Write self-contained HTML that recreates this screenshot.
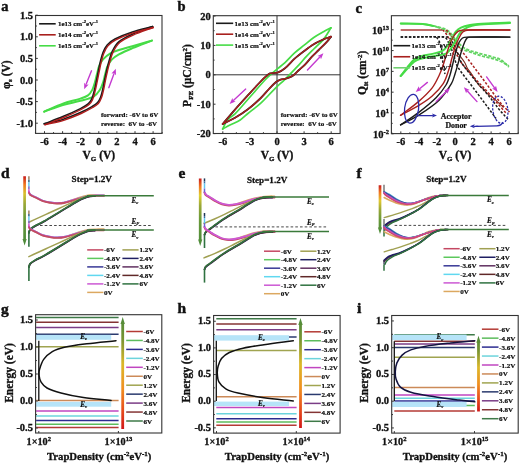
<!DOCTYPE html>
<html><head><meta charset="utf-8"><style>
html,body{margin:0;padding:0;background:#fff;}
svg{display:block;}
text{font-family:"Liberation Serif", "DejaVu Serif", serif;}
</style></head><body>
<svg width="520" height="466" viewBox="0 0 520 466">
<rect width="520" height="466" fill="#fff"/>
<text x="1.20" y="11.00" font-size="14.5" text-anchor="start" font-weight="bold" font-style="normal" fill="#111" stroke="#111" stroke-width="0.43">a</text>
<path d="M44.20,111.60 C50.43,108.93 56.53,105.89 62.90,103.60 C68.60,101.55 74.64,100.48 80.40,98.60 C83.01,97.75 85.88,96.99 88.00,95.40 C89.88,93.99 91.29,91.72 92.40,89.60 C93.62,87.26 94.24,84.57 95.00,82.00 C95.78,79.37 96.30,76.66 97.00,74.00 C97.70,71.33 98.16,68.54 99.20,66.00 C100.16,63.67 101.34,61.27 103.00,59.40 C105.07,57.07 107.70,55.00 110.40,53.40 C113.00,51.86 116.00,50.95 118.90,50.00 C123.34,48.55 127.90,47.48 132.40,46.20 C138.90,44.35 145.40,42.47 151.90,40.60" stroke="#46dc46" stroke-width="2.0" fill="none" stroke-linecap="round" stroke-linejoin="round"/>
<path d="M44.20,111.60 C50.43,109.40 56.57,106.89 62.90,105.00 C68.64,103.29 74.62,102.38 80.40,100.80 C84.85,99.58 89.69,98.78 93.60,96.60 C96.16,95.18 98.17,92.48 99.80,90.00 C101.37,87.62 102.28,84.74 103.20,82.00 C104.08,79.40 104.48,76.65 105.20,74.00 C105.88,71.49 106.33,68.84 107.40,66.50 C108.53,64.04 109.95,61.54 111.80,59.60 C113.79,57.51 116.35,55.81 118.90,54.40 C123.21,52.01 127.83,50.11 132.40,48.20 C138.83,45.51 145.40,43.13 151.90,40.60" stroke="#46dc46" stroke-width="2.0" fill="none" stroke-linecap="round" stroke-linejoin="round"/>
<path d="M44.20,123.80 C50.43,121.40 56.74,119.18 62.90,116.60 C68.81,114.12 74.70,111.51 80.40,108.60 C83.20,107.17 86.06,105.61 88.40,103.60 C89.86,102.35 90.99,100.56 91.80,98.80 C92.92,96.36 93.52,93.63 94.20,91.00 C95.05,87.70 95.70,84.34 96.40,81.00 C97.10,77.67 97.72,74.33 98.40,71.00 C99.05,67.83 99.62,64.64 100.40,61.50 C101.15,58.47 101.82,55.37 103.00,52.50 C104.08,49.87 105.34,47.10 107.20,45.00 C109.34,42.60 112.11,40.49 115.00,39.00 C120.51,36.16 126.47,33.95 132.40,32.00 C139.01,29.82 145.87,28.40 152.60,26.60" stroke="#1b1b1b" stroke-width="1.6" fill="none" stroke-linecap="round" stroke-linejoin="round"/>
<path d="M44.20,123.80 C50.43,122.33 56.80,121.29 62.90,119.40 C68.86,117.55 74.68,115.12 80.40,112.60 C84.38,110.85 88.25,108.78 92.00,106.60 C93.98,105.45 96.09,104.25 97.60,102.60 C98.96,101.12 99.85,99.10 100.60,97.20 C101.51,94.90 102.04,92.42 102.60,90.00 C103.37,86.69 103.90,83.33 104.60,80.00 C105.30,76.66 106.02,73.32 106.80,70.00 C107.55,66.82 108.28,63.63 109.20,60.50 C110.14,57.30 110.88,53.94 112.40,51.00 C114.14,47.64 116.14,44.00 119.00,41.60 C122.81,38.40 127.75,36.27 132.40,34.20 C138.95,31.27 145.87,29.13 152.60,26.60" stroke="#1b1b1b" stroke-width="1.6" fill="none" stroke-linecap="round" stroke-linejoin="round"/>
<path d="M44.95,124.70 C51.18,122.30 57.49,120.08 63.65,117.50 C69.56,115.02 75.45,112.41 81.15,109.50 C83.95,108.07 86.81,106.51 89.15,104.50 C90.61,103.25 91.74,101.46 92.55,99.70 C93.67,97.26 94.27,94.53 94.95,91.90 C95.80,88.60 96.45,85.24 97.15,81.90 C97.85,78.57 98.47,75.23 99.15,71.90 C99.80,68.73 100.37,65.54 101.15,62.40 C101.90,59.37 102.57,56.27 103.75,53.40 C104.83,50.77 106.09,48.00 107.95,45.90 C110.09,43.50 112.86,41.39 115.75,39.90 C121.26,37.06 127.22,34.85 133.15,32.90 C139.76,30.72 146.62,29.30 153.35,27.50" stroke="#b01c1c" stroke-width="1.4" fill="none" stroke-linecap="round" stroke-linejoin="round"/>
<path d="M44.95,124.70 C51.18,123.23 57.55,122.19 63.65,120.30 C69.61,118.45 75.43,116.02 81.15,113.50 C85.13,111.75 89.00,109.68 92.75,107.50 C94.73,106.35 96.84,105.15 98.35,103.50 C99.71,102.02 100.60,100.00 101.35,98.10 C102.26,95.80 102.79,93.32 103.35,90.90 C104.12,87.59 104.65,84.23 105.35,80.90 C106.05,77.56 106.77,74.22 107.55,70.90 C108.30,67.72 109.03,64.53 109.95,61.40 C110.89,58.20 111.63,54.84 113.15,51.90 C114.89,48.54 116.89,44.90 119.75,42.50 C123.56,39.30 128.50,37.17 133.15,35.10 C139.70,32.17 146.62,30.03 153.35,27.50" stroke="#b01c1c" stroke-width="1.4" fill="none" stroke-linecap="round" stroke-linejoin="round"/>
<line x1="91.50" y1="70.80" x2="86.23" y2="84.09" stroke="#c43ad0" stroke-width="1.4" stroke-linecap="round"/>
<path d="M84.20,89.20 L84.18,82.74 L85.97,84.74 L88.64,84.51 Z" fill="#c43ad0"/>
<line x1="108.80" y1="87.70" x2="113.89" y2="73.96" stroke="#c43ad0" stroke-width="1.4" stroke-linecap="round"/>
<path d="M115.80,68.80 L115.97,75.26 L114.13,73.30 L111.47,73.59 Z" fill="#c43ad0"/>
<rect x="35.60" y="15.50" width="126.40" height="117.90" fill="none" stroke="#333" stroke-width="1.1"/>
<line x1="44.50" y1="133.40" x2="44.50" y2="131.20" stroke="#333" stroke-width="1"/>
<line x1="62.60" y1="133.40" x2="62.60" y2="131.20" stroke="#333" stroke-width="1"/>
<line x1="80.70" y1="133.40" x2="80.70" y2="131.20" stroke="#333" stroke-width="1"/>
<line x1="98.80" y1="133.40" x2="98.80" y2="131.20" stroke="#333" stroke-width="1"/>
<line x1="116.90" y1="133.40" x2="116.90" y2="131.20" stroke="#333" stroke-width="1"/>
<line x1="135.00" y1="133.40" x2="135.00" y2="131.20" stroke="#333" stroke-width="1"/>
<line x1="153.10" y1="133.40" x2="153.10" y2="131.20" stroke="#333" stroke-width="1"/>
<line x1="35.45" y1="133.40" x2="35.45" y2="132.10" stroke="#333" stroke-width="1"/>
<line x1="53.55" y1="133.40" x2="53.55" y2="132.10" stroke="#333" stroke-width="1"/>
<line x1="71.65" y1="133.40" x2="71.65" y2="132.10" stroke="#333" stroke-width="1"/>
<line x1="89.75" y1="133.40" x2="89.75" y2="132.10" stroke="#333" stroke-width="1"/>
<line x1="107.85" y1="133.40" x2="107.85" y2="132.10" stroke="#333" stroke-width="1"/>
<line x1="125.95" y1="133.40" x2="125.95" y2="132.10" stroke="#333" stroke-width="1"/>
<line x1="144.05" y1="133.40" x2="144.05" y2="132.10" stroke="#333" stroke-width="1"/>
<line x1="162.15" y1="133.40" x2="162.15" y2="132.10" stroke="#333" stroke-width="1"/>
<text x="44.50" y="145.40" font-size="10.5" text-anchor="middle" font-weight="bold" font-style="normal" fill="#111" stroke="#111" stroke-width="0.32">-6</text>
<text x="62.60" y="145.40" font-size="10.5" text-anchor="middle" font-weight="bold" font-style="normal" fill="#111" stroke="#111" stroke-width="0.32">-4</text>
<text x="80.70" y="145.40" font-size="10.5" text-anchor="middle" font-weight="bold" font-style="normal" fill="#111" stroke="#111" stroke-width="0.32">-2</text>
<text x="98.80" y="145.40" font-size="10.5" text-anchor="middle" font-weight="bold" font-style="normal" fill="#111" stroke="#111" stroke-width="0.32">0</text>
<text x="116.90" y="145.40" font-size="10.5" text-anchor="middle" font-weight="bold" font-style="normal" fill="#111" stroke="#111" stroke-width="0.32">2</text>
<text x="135.00" y="145.40" font-size="10.5" text-anchor="middle" font-weight="bold" font-style="normal" fill="#111" stroke="#111" stroke-width="0.32">4</text>
<text x="153.10" y="145.40" font-size="10.5" text-anchor="middle" font-weight="bold" font-style="normal" fill="#111" stroke="#111" stroke-width="0.32">6</text>
<line x1="35.60" y1="15.20" x2="37.80" y2="15.20" stroke="#333" stroke-width="1"/>
<line x1="35.60" y1="36.80" x2="37.80" y2="36.80" stroke="#333" stroke-width="1"/>
<line x1="35.60" y1="58.40" x2="37.80" y2="58.40" stroke="#333" stroke-width="1"/>
<line x1="35.60" y1="80.00" x2="37.80" y2="80.00" stroke="#333" stroke-width="1"/>
<line x1="35.60" y1="101.60" x2="37.80" y2="101.60" stroke="#333" stroke-width="1"/>
<line x1="35.60" y1="123.20" x2="37.80" y2="123.20" stroke="#333" stroke-width="1"/>
<line x1="35.60" y1="26.00" x2="36.90" y2="26.00" stroke="#333" stroke-width="1"/>
<line x1="35.60" y1="47.60" x2="36.90" y2="47.60" stroke="#333" stroke-width="1"/>
<line x1="35.60" y1="69.20" x2="36.90" y2="69.20" stroke="#333" stroke-width="1"/>
<line x1="35.60" y1="90.80" x2="36.90" y2="90.80" stroke="#333" stroke-width="1"/>
<line x1="35.60" y1="112.40" x2="36.90" y2="112.40" stroke="#333" stroke-width="1"/>
<text x="33.00" y="18.80" font-size="10.5" text-anchor="end" font-weight="bold" font-style="normal" fill="#111" stroke="#111" stroke-width="0.32">1.5</text>
<text x="33.00" y="40.40" font-size="10.5" text-anchor="end" font-weight="bold" font-style="normal" fill="#111" stroke="#111" stroke-width="0.32">1.0</text>
<text x="33.00" y="62.00" font-size="10.5" text-anchor="end" font-weight="bold" font-style="normal" fill="#111" stroke="#111" stroke-width="0.32">0.5</text>
<text x="33.00" y="83.60" font-size="10.5" text-anchor="end" font-weight="bold" font-style="normal" fill="#111" stroke="#111" stroke-width="0.32">0.0</text>
<text x="33.00" y="105.20" font-size="10.5" text-anchor="end" font-weight="bold" font-style="normal" fill="#111" stroke="#111" stroke-width="0.32">-0.5</text>
<text x="33.00" y="126.80" font-size="10.5" text-anchor="end" font-weight="bold" font-style="normal" fill="#111" stroke="#111" stroke-width="0.32">-1.0</text>
<text x="98.80" y="159.20" font-size="11.5" text-anchor="middle" font-weight="bold" font-style="normal" fill="#111" stroke="#111" stroke-width="0.34">V<tspan font-size="7" dy="2">G</tspan><tspan dy="-2"> (V)</tspan></text>
<text x="10.20" y="74.70" font-size="11.5" text-anchor="middle" font-weight="bold" font-style="normal" fill="#111" stroke="#111" stroke-width="0.34" transform="rotate(-90 10.20 74.70)">φ<tspan font-size="7" dy="2">s</tspan><tspan dy="-2"> (V)</tspan></text>
<line x1="39.10" y1="23.80" x2="55.70" y2="23.80" stroke="#1b1b1b" stroke-width="1.6"/>
<text x="57.90" y="26.20" font-size="7" text-anchor="start" font-weight="bold" font-style="normal" fill="#111" stroke="#111" stroke-width="0.21">1e13 cm<tspan font-size="4.6" dy="-2.8">-2</tspan><tspan dy="2.8">eV</tspan><tspan font-size="4.6" dy="-2.8">-1</tspan></text>
<line x1="39.10" y1="34.80" x2="55.70" y2="34.80" stroke="#a8201e" stroke-width="1.6"/>
<text x="57.90" y="37.20" font-size="7" text-anchor="start" font-weight="bold" font-style="normal" fill="#111" stroke="#111" stroke-width="0.21">1e14 cm<tspan font-size="4.6" dy="-2.8">-2</tspan><tspan dy="2.8">eV</tspan><tspan font-size="4.6" dy="-2.8">-1</tspan></text>
<line x1="39.10" y1="45.80" x2="55.70" y2="45.80" stroke="#46dc46" stroke-width="1.6"/>
<text x="57.90" y="48.20" font-size="7" text-anchor="start" font-weight="bold" font-style="normal" fill="#111" stroke="#111" stroke-width="0.21">1e15 cm<tspan font-size="4.6" dy="-2.8">-2</tspan><tspan dy="2.8">eV</tspan><tspan font-size="4.6" dy="-2.8">-1</tspan></text>
<text x="101.00" y="116.50" font-size="7" text-anchor="start" font-weight="bold" font-style="normal" fill="#111" stroke="#111" stroke-width="0.21">forward: -6V to 6V</text>
<text x="101.00" y="125.60" font-size="7" text-anchor="start" font-weight="bold" font-style="normal" fill="#111" stroke="#111" stroke-width="0.21">reverse:&#160; 6V to -6V</text>
<text x="177.50" y="11.00" font-size="14.5" text-anchor="start" font-weight="bold" font-style="normal" fill="#111" stroke="#111" stroke-width="0.43">b</text>
<line x1="277.00" y1="15.70" x2="277.00" y2="133.50" stroke="#333" stroke-width="1"/>
<line x1="213.30" y1="74.80" x2="340.10" y2="74.80" stroke="#333" stroke-width="1"/>
<path d="M331.00,27.80 C328.50,29.10 325.95,30.32 323.50,31.70 C320.22,33.55 316.88,35.35 313.80,37.50 C310.45,39.85 307.40,42.63 304.20,45.20 C301.00,47.77 297.63,50.15 294.60,52.90 C291.23,55.95 288.34,59.52 285.00,62.60 C282.67,64.75 280.03,66.56 277.60,68.60 C275.30,70.53 273.02,72.49 270.80,74.50 C268.82,76.29 266.81,78.05 265.00,80.00 C259.87,85.55 255.01,91.34 250.00,97.00 C245.01,102.64 240.27,108.56 235.00,113.90 C232.77,116.16 229.46,117.39 227.50,119.80 C225.36,122.42 224.30,125.93 222.70,129.00" stroke="#46dc46" stroke-width="1.7" fill="none" stroke-linecap="round" stroke-linejoin="round"/>
<path d="M222.70,129.00 C225.13,127.67 227.53,126.27 230.00,125.00 C233.37,123.27 237.04,122.03 240.20,120.00 C243.00,118.20 245.30,115.62 247.90,113.50 C252.16,110.02 256.76,106.92 260.80,103.20 C265.79,98.62 270.17,93.37 275.00,88.60 C278.24,85.40 281.77,82.50 285.00,79.30 C289.90,74.44 294.68,69.44 299.40,64.40 C301.74,61.90 303.86,59.20 306.20,56.70 C308.66,54.07 311.25,51.55 313.80,49.00 C317.02,45.78 320.65,42.91 323.50,39.40 C326.38,35.85 328.50,31.67 331.00,27.80" stroke="#46dc46" stroke-width="1.7" fill="none" stroke-linecap="round" stroke-linejoin="round"/>
<path d="M331.00,36.60 C328.50,37.53 325.94,38.32 323.50,39.40 C320.20,40.86 316.88,42.35 313.80,44.20 C310.45,46.21 307.33,48.64 304.20,51.00 C300.93,53.47 297.65,55.97 294.60,58.70 C291.25,61.70 288.46,65.37 285.00,68.20 C282.79,70.00 280.25,71.69 277.60,72.60 C275.22,73.42 272.29,72.69 269.90,73.40 C268.59,73.79 267.57,74.99 266.50,75.90 C264.80,77.35 263.15,78.88 261.60,80.50 C256.98,85.32 252.50,90.27 248.00,95.20 C243.64,99.97 239.27,104.74 235.00,109.60 C230.83,114.34 226.80,119.20 222.70,124.00" stroke="#1b1b1b" stroke-width="1.8" fill="none" stroke-linecap="round" stroke-linejoin="round"/>
<path d="M222.70,124.00 C226.80,121.93 231.05,120.12 235.00,117.80 C239.45,115.19 243.81,112.34 247.90,109.20 C252.41,105.74 256.69,101.93 260.80,98.00 C263.73,95.20 266.21,91.94 269.00,89.00 C271.27,86.61 273.49,84.10 276.00,82.00 C277.16,81.03 278.58,80.30 280.00,79.80 C281.58,79.24 283.35,79.22 285.00,78.80 C286.52,78.42 288.06,78.01 289.50,77.40 C290.89,76.81 292.31,76.13 293.50,75.20 C295.48,73.66 297.15,71.71 299.00,70.00 C301.05,68.11 303.26,66.40 305.20,64.40 C307.56,61.96 309.57,59.18 311.90,56.70 C314.07,54.38 316.45,52.25 318.70,50.00 C321.58,47.12 324.55,44.30 327.30,41.30 C328.65,39.83 329.77,38.17 331.00,36.60" stroke="#1b1b1b" stroke-width="1.8" fill="none" stroke-linecap="round" stroke-linejoin="round"/>
<path d="M331.00,36.60 C328.50,37.53 325.94,38.32 323.50,39.40 C320.20,40.86 316.88,42.35 313.80,44.20 C310.45,46.21 307.33,48.64 304.20,51.00 C300.93,53.47 297.65,55.97 294.60,58.70 C291.25,61.70 288.46,65.37 285.00,68.20 C282.79,70.00 280.25,71.69 277.60,72.60 C275.22,73.42 272.29,72.69 269.90,73.40 C268.59,73.79 267.57,74.99 266.50,75.90 C264.80,77.35 263.15,78.88 261.60,80.50 C256.98,85.32 252.50,90.27 248.00,95.20 C243.64,99.97 239.27,104.74 235.00,109.60 C230.83,114.34 226.80,119.20 222.70,124.00" stroke="#a8201e" stroke-width="1.4" fill="none" stroke-linecap="round" stroke-linejoin="round"/>
<path d="M222.70,124.00 C226.80,121.93 231.05,120.12 235.00,117.80 C239.45,115.19 243.81,112.34 247.90,109.20 C252.41,105.74 256.69,101.93 260.80,98.00 C263.73,95.20 266.21,91.94 269.00,89.00 C271.27,86.61 273.49,84.10 276.00,82.00 C277.16,81.03 278.58,80.30 280.00,79.80 C281.58,79.24 283.35,79.22 285.00,78.80 C286.52,78.42 288.06,78.01 289.50,77.40 C290.89,76.81 292.31,76.13 293.50,75.20 C295.48,73.66 297.15,71.71 299.00,70.00 C301.05,68.11 303.26,66.40 305.20,64.40 C307.56,61.96 309.57,59.18 311.90,56.70 C314.07,54.38 316.45,52.25 318.70,50.00 C321.58,47.12 324.55,44.30 327.30,41.30 C328.65,39.83 329.77,38.17 331.00,36.60" stroke="#a8201e" stroke-width="1.4" fill="none" stroke-linecap="round" stroke-linejoin="round"/>
<line x1="307.50" y1="70.00" x2="319.61" y2="57.28" stroke="#c43ad0" stroke-width="1.4" stroke-linecap="round"/>
<path d="M323.40,53.30 L321.00,59.30 L320.09,56.78 L317.52,55.99 Z" fill="#c43ad0"/>
<line x1="245.70" y1="89.10" x2="233.65" y2="100.18" stroke="#c43ad0" stroke-width="1.4" stroke-linecap="round"/>
<path d="M229.60,103.90 L232.39,98.07 L233.13,100.65 L235.64,101.61 Z" fill="#c43ad0"/>
<rect x="213.30" y="15.70" width="126.80" height="117.80" fill="none" stroke="#333" stroke-width="1.1"/>
<line x1="222.82" y1="133.50" x2="222.82" y2="131.30" stroke="#333" stroke-width="1"/>
<line x1="249.91" y1="133.50" x2="249.91" y2="131.30" stroke="#333" stroke-width="1"/>
<line x1="277.00" y1="133.50" x2="277.00" y2="131.30" stroke="#333" stroke-width="1"/>
<line x1="304.09" y1="133.50" x2="304.09" y2="131.30" stroke="#333" stroke-width="1"/>
<line x1="331.18" y1="133.50" x2="331.18" y2="131.30" stroke="#333" stroke-width="1"/>
<line x1="236.37" y1="133.50" x2="236.37" y2="132.20" stroke="#333" stroke-width="1"/>
<line x1="263.45" y1="133.50" x2="263.45" y2="132.20" stroke="#333" stroke-width="1"/>
<line x1="290.55" y1="133.50" x2="290.55" y2="132.20" stroke="#333" stroke-width="1"/>
<line x1="317.63" y1="133.50" x2="317.63" y2="132.20" stroke="#333" stroke-width="1"/>
<text x="222.82" y="145.40" font-size="10.5" text-anchor="middle" font-weight="bold" font-style="normal" fill="#111" stroke="#111" stroke-width="0.32">-6</text>
<text x="249.91" y="145.40" font-size="10.5" text-anchor="middle" font-weight="bold" font-style="normal" fill="#111" stroke="#111" stroke-width="0.32">-3</text>
<text x="277.00" y="145.40" font-size="10.5" text-anchor="middle" font-weight="bold" font-style="normal" fill="#111" stroke="#111" stroke-width="0.32">0</text>
<text x="304.09" y="145.40" font-size="10.5" text-anchor="middle" font-weight="bold" font-style="normal" fill="#111" stroke="#111" stroke-width="0.32">3</text>
<text x="331.18" y="145.40" font-size="10.5" text-anchor="middle" font-weight="bold" font-style="normal" fill="#111" stroke="#111" stroke-width="0.32">6</text>
<line x1="213.30" y1="16.00" x2="215.50" y2="16.00" stroke="#333" stroke-width="1"/>
<line x1="213.30" y1="45.40" x2="215.50" y2="45.40" stroke="#333" stroke-width="1"/>
<line x1="213.30" y1="74.80" x2="215.50" y2="74.80" stroke="#333" stroke-width="1"/>
<line x1="213.30" y1="104.20" x2="215.50" y2="104.20" stroke="#333" stroke-width="1"/>
<line x1="213.30" y1="133.60" x2="215.50" y2="133.60" stroke="#333" stroke-width="1"/>
<line x1="213.30" y1="30.70" x2="214.60" y2="30.70" stroke="#333" stroke-width="1"/>
<line x1="213.30" y1="60.10" x2="214.60" y2="60.10" stroke="#333" stroke-width="1"/>
<line x1="213.30" y1="89.50" x2="214.60" y2="89.50" stroke="#333" stroke-width="1"/>
<line x1="213.30" y1="118.90" x2="214.60" y2="118.90" stroke="#333" stroke-width="1"/>
<text x="210.80" y="19.60" font-size="10.5" text-anchor="end" font-weight="bold" font-style="normal" fill="#111" stroke="#111" stroke-width="0.32">20</text>
<text x="210.80" y="49.00" font-size="10.5" text-anchor="end" font-weight="bold" font-style="normal" fill="#111" stroke="#111" stroke-width="0.32">10</text>
<text x="210.80" y="78.40" font-size="10.5" text-anchor="end" font-weight="bold" font-style="normal" fill="#111" stroke="#111" stroke-width="0.32">0</text>
<text x="210.80" y="107.80" font-size="10.5" text-anchor="end" font-weight="bold" font-style="normal" fill="#111" stroke="#111" stroke-width="0.32">-10</text>
<text x="210.80" y="137.20" font-size="10.5" text-anchor="end" font-weight="bold" font-style="normal" fill="#111" stroke="#111" stroke-width="0.32">-20</text>
<text x="277.00" y="159.20" font-size="11.5" text-anchor="middle" font-weight="bold" font-style="normal" fill="#111" stroke="#111" stroke-width="0.34">V<tspan font-size="7" dy="2">G</tspan><tspan dy="-2"> (V)</tspan></text>
<text x="190.90" y="75.50" font-size="11.5" text-anchor="middle" font-weight="bold" font-style="normal" fill="#111" stroke="#111" stroke-width="0.34" transform="rotate(-90 190.90 75.50)">P<tspan font-size="7" dy="2">FE</tspan><tspan dy="-2"> (μC/cm</tspan><tspan font-size="7" dy="-4">2</tspan><tspan dy="4">)</tspan></text>
<line x1="216.00" y1="23.30" x2="233.20" y2="23.30" stroke="#1b1b1b" stroke-width="1.6"/>
<text x="234.60" y="25.70" font-size="7" text-anchor="start" font-weight="bold" font-style="normal" fill="#111" stroke="#111" stroke-width="0.21">1e13 cm<tspan font-size="4.6" dy="-2.8">-2</tspan><tspan dy="2.8">eV</tspan><tspan font-size="4.6" dy="-2.8">-1</tspan></text>
<line x1="216.00" y1="34.20" x2="233.20" y2="34.20" stroke="#a8201e" stroke-width="1.6"/>
<text x="234.60" y="36.60" font-size="7" text-anchor="start" font-weight="bold" font-style="normal" fill="#111" stroke="#111" stroke-width="0.21">1e14 cm<tspan font-size="4.6" dy="-2.8">-2</tspan><tspan dy="2.8">eV</tspan><tspan font-size="4.6" dy="-2.8">-1</tspan></text>
<line x1="216.00" y1="45.10" x2="233.20" y2="45.10" stroke="#46dc46" stroke-width="1.6"/>
<text x="234.60" y="47.50" font-size="7" text-anchor="start" font-weight="bold" font-style="normal" fill="#111" stroke="#111" stroke-width="0.21">1e15 cm<tspan font-size="4.6" dy="-2.8">-2</tspan><tspan dy="2.8">eV</tspan><tspan font-size="4.6" dy="-2.8">-1</tspan></text>
<text x="280.70" y="117.30" font-size="7" text-anchor="start" font-weight="bold" font-style="normal" fill="#111" stroke="#111" stroke-width="0.21">forward: -6V to 6V</text>
<text x="280.70" y="126.30" font-size="7" text-anchor="start" font-weight="bold" font-style="normal" fill="#111" stroke="#111" stroke-width="0.21">reverse:&#160; 6V to -6V</text>
<text x="355.40" y="12.50" font-size="14.8" text-anchor="start" font-weight="bold" font-style="normal" fill="#111" stroke="#111" stroke-width="0.44">c</text>
<rect x="391.40" y="15.70" width="126.80" height="117.90" fill="none" stroke="#333" stroke-width="1.1"/>
<line x1="400.82" y1="133.60" x2="400.82" y2="131.40" stroke="#333" stroke-width="1"/>
<line x1="418.88" y1="133.60" x2="418.88" y2="131.40" stroke="#333" stroke-width="1"/>
<line x1="436.94" y1="133.60" x2="436.94" y2="131.40" stroke="#333" stroke-width="1"/>
<line x1="455.00" y1="133.60" x2="455.00" y2="131.40" stroke="#333" stroke-width="1"/>
<line x1="473.06" y1="133.60" x2="473.06" y2="131.40" stroke="#333" stroke-width="1"/>
<line x1="491.12" y1="133.60" x2="491.12" y2="131.40" stroke="#333" stroke-width="1"/>
<line x1="509.18" y1="133.60" x2="509.18" y2="131.40" stroke="#333" stroke-width="1"/>
<line x1="391.79" y1="133.60" x2="391.79" y2="132.30" stroke="#333" stroke-width="1"/>
<line x1="409.85" y1="133.60" x2="409.85" y2="132.30" stroke="#333" stroke-width="1"/>
<line x1="427.91" y1="133.60" x2="427.91" y2="132.30" stroke="#333" stroke-width="1"/>
<line x1="445.97" y1="133.60" x2="445.97" y2="132.30" stroke="#333" stroke-width="1"/>
<line x1="464.03" y1="133.60" x2="464.03" y2="132.30" stroke="#333" stroke-width="1"/>
<line x1="482.09" y1="133.60" x2="482.09" y2="132.30" stroke="#333" stroke-width="1"/>
<line x1="500.15" y1="133.60" x2="500.15" y2="132.30" stroke="#333" stroke-width="1"/>
<line x1="518.21" y1="133.60" x2="518.21" y2="132.30" stroke="#333" stroke-width="1"/>
<text x="400.82" y="145.40" font-size="10.5" text-anchor="middle" font-weight="bold" font-style="normal" fill="#111" stroke="#111" stroke-width="0.32">-6</text>
<text x="418.88" y="145.40" font-size="10.5" text-anchor="middle" font-weight="bold" font-style="normal" fill="#111" stroke="#111" stroke-width="0.32">-4</text>
<text x="436.94" y="145.40" font-size="10.5" text-anchor="middle" font-weight="bold" font-style="normal" fill="#111" stroke="#111" stroke-width="0.32">-2</text>
<text x="455.00" y="145.40" font-size="10.5" text-anchor="middle" font-weight="bold" font-style="normal" fill="#111" stroke="#111" stroke-width="0.32">0</text>
<text x="473.06" y="145.40" font-size="10.5" text-anchor="middle" font-weight="bold" font-style="normal" fill="#111" stroke="#111" stroke-width="0.32">2</text>
<text x="491.12" y="145.40" font-size="10.5" text-anchor="middle" font-weight="bold" font-style="normal" fill="#111" stroke="#111" stroke-width="0.32">4</text>
<text x="509.18" y="145.40" font-size="10.5" text-anchor="middle" font-weight="bold" font-style="normal" fill="#111" stroke="#111" stroke-width="0.32">6</text>
<line x1="391.40" y1="29.80" x2="393.60" y2="29.80" stroke="#333" stroke-width="1"/>
<text x="389.00" y="34.10" font-size="10.5" text-anchor="end" font-weight="bold" font-style="normal" fill="#111" stroke="#111" stroke-width="0.32">10<tspan font-size="6.5" dy="-4">13</tspan></text>
<line x1="391.40" y1="50.59" x2="393.60" y2="50.59" stroke="#333" stroke-width="1"/>
<text x="389.00" y="54.89" font-size="10.5" text-anchor="end" font-weight="bold" font-style="normal" fill="#111" stroke="#111" stroke-width="0.32">10<tspan font-size="6.5" dy="-4">10</tspan></text>
<line x1="391.40" y1="71.38" x2="393.60" y2="71.38" stroke="#333" stroke-width="1"/>
<text x="389.00" y="75.68" font-size="10.5" text-anchor="end" font-weight="bold" font-style="normal" fill="#111" stroke="#111" stroke-width="0.32">10<tspan font-size="6.5" dy="-4">7</tspan></text>
<line x1="391.40" y1="92.17" x2="393.60" y2="92.17" stroke="#333" stroke-width="1"/>
<text x="389.00" y="96.47" font-size="10.5" text-anchor="end" font-weight="bold" font-style="normal" fill="#111" stroke="#111" stroke-width="0.32">10<tspan font-size="6.5" dy="-4">4</tspan></text>
<line x1="391.40" y1="112.96" x2="393.60" y2="112.96" stroke="#333" stroke-width="1"/>
<text x="389.00" y="117.26" font-size="10.5" text-anchor="end" font-weight="bold" font-style="normal" fill="#111" stroke="#111" stroke-width="0.32">10<tspan font-size="6.5" dy="-4">1</tspan></text>
<line x1="391.40" y1="133.75" x2="393.60" y2="133.75" stroke="#333" stroke-width="1"/>
<text x="389.00" y="138.05" font-size="10.5" text-anchor="end" font-weight="bold" font-style="normal" fill="#111" stroke="#111" stroke-width="0.32">10<tspan font-size="6.5" dy="-4">-2</tspan></text>
<line x1="391.40" y1="40.20" x2="392.70" y2="40.20" stroke="#333" stroke-width="1"/>
<line x1="391.40" y1="60.98" x2="392.70" y2="60.98" stroke="#333" stroke-width="1"/>
<line x1="391.40" y1="81.77" x2="392.70" y2="81.77" stroke="#333" stroke-width="1"/>
<line x1="391.40" y1="102.56" x2="392.70" y2="102.56" stroke="#333" stroke-width="1"/>
<line x1="391.40" y1="123.35" x2="392.70" y2="123.35" stroke="#333" stroke-width="1"/>
<path d="M449.00,42.00 C451.00,44.67 452.94,47.38 455.00,50.00 C456.61,52.05 458.40,53.94 460.00,56.00 C461.64,58.11 463.33,60.22 464.70,62.50 C465.83,64.38 466.37,66.62 467.50,68.50 C468.51,70.18 470.01,71.56 471.10,73.20 C472.67,75.56 473.93,78.14 475.50,80.50 C476.79,82.44 478.12,84.42 479.70,86.10 C480.78,87.25 482.38,87.88 483.50,89.00 C484.88,90.38 485.78,92.27 487.20,93.60 C488.45,94.77 490.12,95.46 491.50,96.50 C492.99,97.63 494.42,98.84 495.80,100.10 C498.25,102.34 500.60,104.70 503.00,107.00" stroke="#7a2a1c" stroke-width="1.1" fill="none" stroke-linecap="round" stroke-linejoin="round"/>
<path d="M400.70,23.40 C408.13,23.60 415.61,23.41 423.00,24.00 C426.54,24.28 430.00,25.33 433.50,26.00" stroke="#46dc46" stroke-width="2.0" fill="none" stroke-linecap="round" stroke-linejoin="round"/>
<path d="M400.70,23.60 C409.13,23.87 417.64,23.62 426.00,24.40 C429.74,24.75 433.33,26.13 437.00,27.00" stroke="#46dc46" stroke-width="1.6" fill="none" stroke-linecap="round" stroke-linejoin="round"/>
<path d="M433.50,26.00 C436.50,26.73 439.61,27.17 442.50,28.20 C444.78,29.01 447.15,30.00 449.00,31.50 C450.98,33.10 452.33,35.50 454.00,37.50 C455.67,39.50 457.15,41.68 459.00,43.50 C460.95,45.42 462.98,47.49 465.40,48.70 C469.31,50.66 473.76,51.71 478.00,53.00 C481.96,54.21 486.03,55.02 490.00,56.20 C493.63,57.28 497.57,57.96 500.80,59.80 C503.87,61.56 506.20,64.60 508.90,67.00" stroke="#62d462" stroke-width="1.8" fill="none" stroke-linecap="butt" stroke-linejoin="round" stroke-dasharray="3.2,1.4"/>
<path d="M437.00,27.00 C439.67,28.17 442.58,28.95 445.00,30.50 C447.25,31.95 449.27,33.94 451.00,36.00 C452.77,38.11 453.78,40.85 455.50,43.00 C457.11,45.01 458.84,47.16 461.00,48.50 C463.68,50.16 466.97,50.92 470.00,52.00 C473.97,53.42 477.96,54.82 482.00,56.00 C485.96,57.15 490.07,57.78 494.00,59.00 C497.07,59.95 500.10,61.14 503.00,62.50 C505.06,63.47 506.93,64.83 508.90,66.00" stroke="#62d462" stroke-width="1.8" fill="none" stroke-linecap="butt" stroke-linejoin="round" stroke-dasharray="3.2,1.4"/>
<line x1="400.70" y1="30.00" x2="442.00" y2="30.00" stroke="#a83a36" stroke-width="1.5"/>
<path d="M442.50,30.00 C443.33,30.67 444.35,31.17 445.00,32.00 C446.18,33.51 447.08,35.29 448.00,37.00 C449.41,39.62 450.67,42.33 452.00,45.00 C453.33,47.67 454.64,50.35 456.00,53.00 C457.44,55.81 458.54,58.87 460.40,61.40 C464.54,67.03 469.33,72.26 474.00,77.50 C478.26,82.29 482.90,86.75 487.20,91.50 C490.90,95.58 494.38,99.85 498.00,104.00 C500.64,107.02 503.33,110.00 506.00,113.00" stroke="#a8201e" stroke-width="1.5" fill="none" stroke-linecap="butt" stroke-linejoin="round" stroke-dasharray="2.4,1.7"/>
<path d="M446.00,30.00 C447.00,30.83 448.15,31.53 449.00,32.50 C450.48,34.19 451.71,36.14 453.00,38.00 C454.37,39.97 455.67,42.00 457.00,44.00 C458.33,46.00 459.60,48.05 461.00,50.00 C462.50,52.08 464.15,54.05 465.70,56.10 C471.82,64.22 477.92,72.35 484.00,80.50 C490.09,88.65 495.82,97.11 502.20,105.00 C504.32,107.61 507.07,109.67 509.50,112.00" stroke="#a8201e" stroke-width="1.5" fill="none" stroke-linecap="butt" stroke-linejoin="round" stroke-dasharray="2.4,1.7"/>
<path d="M400.70,37.10 C415.13,37.10 429.74,36.54 444.00,37.10 C445.04,37.14 445.98,38.09 446.60,38.90 C447.54,40.12 448.01,41.76 448.70,43.20 C449.47,44.80 450.32,46.36 451.00,48.00 C452.09,50.63 453.07,53.31 454.00,56.00 C455.14,59.31 455.46,63.01 457.20,66.00 C460.79,72.18 465.70,77.69 470.00,83.50 C474.63,89.76 479.36,95.95 484.00,102.20 C488.02,107.62 492.00,113.07 496.00,118.50" stroke="#1b1b1b" stroke-width="1.5" fill="none" stroke-linecap="butt" stroke-linejoin="round" stroke-dasharray="2.4,1.7"/>
<path d="M400.70,37.10 C416.47,37.10 432.59,36.21 448.00,37.10 C449.36,37.18 450.19,38.89 451.00,40.00 C452.35,41.85 453.47,43.93 454.50,46.00 C455.80,48.60 456.88,51.31 458.00,54.00 C459.18,56.81 459.72,59.98 461.40,62.50 C465.89,69.25 471.33,75.48 476.50,81.80 C480.99,87.28 485.91,92.42 490.40,97.90 C493.74,101.98 496.65,106.42 500.00,110.50 C502.48,113.52 505.27,116.30 507.90,119.20" stroke="#1b1b1b" stroke-width="1.5" fill="none" stroke-linecap="butt" stroke-linejoin="round" stroke-dasharray="2.4,1.7"/>
<path d="M436.50,37.10 C437.33,38.40 438.31,39.63 439.00,41.00 C439.87,42.73 440.81,44.51 441.20,46.40 C441.91,49.85 441.90,53.47 442.30,57.00 C442.63,59.90 442.94,62.81 443.40,65.70 C443.84,68.48 444.47,71.23 445.00,74.00" stroke="#1b1b1b" stroke-width="1.5" fill="none" stroke-linecap="butt" stroke-linejoin="round" stroke-dasharray="2.4,1.7"/>
<path d="M400.70,76.00 C403.03,72.93 405.25,69.77 407.70,66.80 C409.75,64.31 411.73,61.60 414.20,59.60 C416.03,58.13 418.34,57.10 420.60,56.40 C424.77,55.10 429.24,54.69 433.50,53.60 C436.54,52.82 439.81,52.26 442.50,50.80 C444.48,49.73 446.10,47.81 447.50,46.00 C449.27,43.71 450.53,41.02 452.00,38.50 C453.36,36.18 454.32,33.53 456.00,31.50 C457.32,29.90 459.12,28.47 461.00,27.60 C463.78,26.31 466.95,25.63 470.00,25.00 C472.62,24.46 475.32,24.26 478.00,24.10 C488.62,23.46 499.27,23.10 509.90,22.60" stroke="#46dc46" stroke-width="2.0" fill="none" stroke-linecap="round" stroke-linejoin="round"/>
<path d="M400.70,76.00 C403.03,73.47 405.33,70.90 407.70,68.40 C409.83,66.16 411.76,63.62 414.20,61.80 C416.06,60.42 418.35,59.45 420.60,58.80 C424.79,57.59 429.20,57.08 433.50,56.20 C437.67,55.35 442.26,55.25 446.00,53.60 C448.09,52.68 449.58,50.39 451.00,48.50 C452.74,46.19 454.06,43.54 455.50,41.00 C456.90,38.54 457.83,35.73 459.50,33.50 C460.83,31.73 462.62,30.16 464.50,29.00 C466.78,27.59 469.41,26.54 472.00,25.80 C474.57,25.07 477.31,24.80 480.00,24.60 C489.95,23.87 499.93,23.53 509.90,23.00" stroke="#46dc46" stroke-width="2.0" fill="none" stroke-linecap="round" stroke-linejoin="round"/>
<path d="M400.60,115.30 C406.57,110.73 412.84,106.51 418.50,101.60 C423.37,97.38 428.24,92.92 432.20,87.90 C435.10,84.22 437.01,79.73 439.10,75.50 C440.45,72.77 441.48,69.87 442.50,67.00 C443.78,63.37 444.83,59.67 446.00,56.00 C447.17,52.33 448.12,48.58 449.50,45.00 C450.62,42.08 451.86,39.13 453.50,36.50 C454.69,34.60 456.20,32.61 458.00,31.40 C459.37,30.48 461.31,30.34 463.00,30.10 C464.64,29.87 466.33,30.00 468.00,30.00 C481.97,29.97 495.93,30.00 509.90,30.00" stroke="#a8201e" stroke-width="1.4" fill="none" stroke-linecap="round" stroke-linejoin="round"/>
<path d="M400.60,115.30 C406.57,112.10 412.72,109.21 418.50,105.70 C423.26,102.81 428.06,99.78 432.20,96.10 C436.30,92.45 440.29,88.30 443.20,83.70 C445.79,79.60 447.11,74.65 448.70,70.00 C450.04,66.08 450.87,61.99 452.00,58.00 C453.14,53.99 454.13,49.92 455.50,46.00 C456.46,43.26 457.66,40.57 459.00,38.00 C460.09,35.91 461.07,33.40 462.80,32.00 C464.37,30.73 466.77,30.09 468.90,30.00 C482.47,29.42 496.23,30.00 509.90,30.00" stroke="#a8201e" stroke-width="1.4" fill="none" stroke-linecap="round" stroke-linejoin="round"/>
<path d="M400.60,124.90 C406.57,120.80 412.76,117.00 418.50,112.60 C424.66,107.87 430.84,102.98 436.30,97.50 C440.00,93.78 443.28,89.46 446.00,85.00 C447.85,81.96 448.91,78.41 450.00,75.00 C451.25,71.08 452.00,67.00 453.00,63.00 C454.00,59.00 454.84,54.95 456.00,51.00 C456.84,48.12 457.67,45.15 459.00,42.50 C459.84,40.82 461.02,39.00 462.50,38.00 C463.69,37.20 465.47,37.13 467.00,37.10 C481.27,36.83 495.60,37.10 509.90,37.10" stroke="#1b1b1b" stroke-width="1.4" fill="none" stroke-linecap="round" stroke-linejoin="round"/>
<path d="M400.60,124.90 C406.57,121.70 412.82,118.95 418.50,115.30 C425.65,110.71 433.03,106.03 439.10,100.20 C443.99,95.50 447.87,89.51 451.40,83.70 C453.17,80.78 453.93,77.28 455.00,74.00 C456.29,70.04 457.37,66.01 458.50,62.00 C459.53,58.34 460.38,54.63 461.50,51.00 C462.38,48.13 463.29,45.24 464.50,42.50 C465.26,40.77 466.08,38.70 467.40,37.60 C468.24,36.90 469.79,37.11 471.00,37.10 C483.96,36.95 496.93,37.10 509.90,37.10" stroke="#1b1b1b" stroke-width="1.4" fill="none" stroke-linecap="round" stroke-linejoin="round"/>
<ellipse cx="411.6" cy="108.7" rx="7" ry="14.5" fill="none" stroke="#2a2aa8" stroke-width="1.3" transform="rotate(8 411.6 108.7)"/>
<ellipse cx="500.3" cy="109.8" rx="7.5" ry="13.7" fill="none" stroke="#2a2aa8" stroke-width="1.3" stroke-dasharray="2.2,1.6" transform="rotate(-8 500.3 109.8)"/>
<line x1="418.50" y1="115.60" x2="432.50" y2="115.60" stroke="#2a2aa8" stroke-width="1.3" stroke-linecap="round"/>
<path d="M437.00,115.60 L432.00,117.60 L433.20,115.60 L432.00,113.60 Z" fill="#2a2aa8"/>
<path d="M502.5,122.5 Q501.5,125.6 497,125.8 L476,126.3" stroke="#2a2aa8" stroke-width="1.3" fill="none" stroke-linecap="round" stroke-linejoin="round"/>
<line x1="478.00" y1="126.30" x2="474.30" y2="126.30" stroke="#2a2aa8" stroke-width="1.3" stroke-linecap="round"/>
<path d="M469.80,126.30 L474.80,124.30 L473.60,126.30 L474.80,128.30 Z" fill="#2a2aa8"/>
<text x="440.80" y="118.50" font-size="7.9" text-anchor="start" font-weight="bold" font-style="normal" fill="#111" stroke="#111" stroke-width="0.24">Acceptor</text>
<text x="445.40" y="127.90" font-size="7.9" text-anchor="start" font-weight="bold" font-style="normal" fill="#111" stroke="#111" stroke-width="0.24">Donor</text>
<line x1="427.40" y1="82.40" x2="419.95" y2="88.51" stroke="#c43ad0" stroke-width="1.4" stroke-linecap="round"/>
<path d="M415.70,92.00 L418.82,86.34 L419.41,88.96 L421.86,90.05 Z" fill="#c43ad0"/>
<line x1="436.30" y1="101.60" x2="446.11" y2="91.79" stroke="#c43ad0" stroke-width="1.4" stroke-linecap="round"/>
<path d="M450.00,87.90 L447.45,93.84 L446.61,91.29 L444.06,90.45 Z" fill="#c43ad0"/>
<line x1="486.60" y1="76.90" x2="494.36" y2="87.55" stroke="#c43ad0" stroke-width="1.4" stroke-linecap="round"/>
<path d="M497.60,92.00 L492.13,88.56 L494.77,88.12 L496.01,85.74 Z" fill="#c43ad0"/>
<line x1="477.00" y1="101.60" x2="467.60" y2="91.27" stroke="#c43ad0" stroke-width="1.4" stroke-linecap="round"/>
<path d="M463.90,87.20 L469.71,90.02 L467.13,90.75 L466.16,93.25 Z" fill="#c43ad0"/>
<line x1="393.40" y1="45.70" x2="410.20" y2="45.70" stroke="#1b1b1b" stroke-width="1.6"/>
<text x="411.60" y="48.10" font-size="7" text-anchor="start" font-weight="bold" font-style="normal" fill="#111" stroke="#111" stroke-width="0.21">1e13 cm<tspan font-size="4.6" dy="-2.8">-2</tspan><tspan dy="2.8">eV</tspan><tspan font-size="4.6" dy="-2.8">-1</tspan></text>
<line x1="393.40" y1="56.75" x2="410.20" y2="56.75" stroke="#a8201e" stroke-width="1.6"/>
<text x="411.60" y="59.15" font-size="7" text-anchor="start" font-weight="bold" font-style="normal" fill="#111" stroke="#111" stroke-width="0.21">1e14 cm<tspan font-size="4.6" dy="-2.8">-2</tspan><tspan dy="2.8">eV</tspan><tspan font-size="4.6" dy="-2.8">-1</tspan></text>
<line x1="393.40" y1="67.80" x2="410.20" y2="67.80" stroke="#70d070" stroke-width="1.6"/>
<text x="411.60" y="70.20" font-size="7" text-anchor="start" font-weight="bold" font-style="normal" fill="#111" stroke="#111" stroke-width="0.21">1e15 cm<tspan font-size="4.6" dy="-2.8">-2</tspan><tspan dy="2.8">eV</tspan><tspan font-size="4.6" dy="-2.8">-1</tspan></text>
<text x="455.00" y="159.20" font-size="11.5" text-anchor="middle" font-weight="bold" font-style="normal" fill="#111" stroke="#111" stroke-width="0.34">V<tspan font-size="7" dy="2">G</tspan><tspan dy="-2"> (V)</tspan></text>
<text x="366.50" y="72.80" font-size="11.5" text-anchor="middle" font-weight="bold" font-style="normal" fill="#111" stroke="#111" stroke-width="0.34" transform="rotate(-90 366.50 72.80)">Q<tspan font-size="7" dy="2">it</tspan><tspan dy="-2"> (cm</tspan><tspan font-size="7" dy="-4">-2</tspan><tspan dy="4">)</tspan></text>
<defs><linearGradient id="gd" x1="0" y1="176.3" x2="0" y2="245.5" gradientUnits="userSpaceOnUse">
<stop offset="0" stop-color="#c81e1e"/>
<stop offset="0.12" stop-color="#f07820"/>
<stop offset="0.25" stop-color="#d8c030"/>
<stop offset="0.4" stop-color="#9aa838"/>
<stop offset="0.6" stop-color="#6a9a38"/>
<stop offset="1" stop-color="#4a8a3a"/>
</linearGradient></defs>
<path d="M23.25,176.30 L25.95,176.30 L25.95,239.00 L26.70,239.00 L24.60,245.50 L22.50,239.00 L23.25,239.00 Z" fill="url(#gd)"/>
<line x1="40.00" y1="225.50" x2="150.80" y2="225.50" stroke="#333" stroke-width="0.9" stroke-dasharray="2.6,2.1"/>
<path d="M28.90,192.30 C29.37,193.13 29.57,194.24 30.30,194.80 C31.74,195.91 33.70,196.46 35.40,197.30 C37.90,198.53 40.29,200.08 42.90,201.00 C45.42,201.88 48.15,202.26 50.80,202.70 C52.81,203.03 54.86,203.28 56.90,203.30 C59.23,203.32 61.65,203.37 63.90,202.80 C68.85,201.54 73.58,199.28 78.50,197.80 C82.01,196.75 85.59,195.73 89.20,195.20 C92.39,194.73 95.67,194.89 98.90,194.80 C100.57,194.75 102.23,194.80 103.90,194.80" stroke="#dca860" stroke-width="1.7" fill="none" stroke-linecap="round" stroke-linejoin="round"/>
<path d="M28.90,192.00 C29.37,192.83 29.57,193.94 30.30,194.50 C31.74,195.61 33.70,196.16 35.40,197.00 C37.90,198.23 40.29,199.78 42.90,200.70 C45.42,201.58 48.15,201.96 50.80,202.40 C52.81,202.73 54.86,202.98 56.90,203.00 C59.23,203.02 61.62,202.99 63.90,202.50 C68.82,201.45 73.61,199.69 78.50,198.40 C82.05,197.46 85.59,196.33 89.20,195.80 C92.39,195.33 95.67,195.49 98.90,195.40 C100.57,195.35 102.23,195.40 103.90,195.40" stroke="#60d8f0" stroke-width="1.6" fill="none" stroke-linecap="round" stroke-linejoin="round"/>
<path d="M28.90,192.00 C29.37,192.83 29.57,193.94 30.30,194.50 C31.74,195.61 33.70,196.16 35.40,197.00 C37.90,198.23 40.29,199.78 42.90,200.70 C45.42,201.58 48.15,201.96 50.80,202.40 C52.81,202.73 54.86,202.98 56.90,203.00 C59.23,203.02 61.62,202.99 63.90,202.50 C68.82,201.45 73.61,199.69 78.50,198.40 C82.05,197.46 85.59,196.33 89.20,195.80 C92.39,195.33 95.67,195.49 98.90,195.40 C100.57,195.35 102.23,195.40 103.90,195.40" stroke="#cc58d4" stroke-width="1.7" fill="none" stroke-linecap="round" stroke-linejoin="round"/>
<path d="M28.90,192.50 C29.37,193.33 29.57,194.44 30.30,195.00 C31.74,196.11 33.70,196.66 35.40,197.50 C37.90,198.73 40.29,200.28 42.90,201.20 C45.42,202.08 48.15,202.46 50.80,202.90 C52.81,203.23 54.86,203.48 56.90,203.50 C59.23,203.52 61.62,203.49 63.90,203.00 C68.82,201.95 73.61,200.19 78.50,198.90 C82.05,197.96 85.59,196.83 89.20,196.30 C92.39,195.83 95.67,195.99 98.90,195.90 C100.57,195.85 102.23,195.90 103.90,195.90" stroke="#c24c64" stroke-width="1.8" fill="none" stroke-linecap="round" stroke-linejoin="round"/>
<path d="M28.90,222.20 C32.23,220.67 35.57,219.13 38.90,217.60 C42.23,216.07 45.56,214.52 48.90,213.00 C52.23,211.49 55.57,210.01 58.90,208.50 C62.24,206.98 65.58,205.45 68.90,203.90 C71.58,202.65 74.22,201.34 76.90,200.10 C78.89,199.18 80.83,198.11 82.90,197.40 C84.83,196.74 86.87,196.29 88.90,196.00 C90.87,195.72 92.90,195.80 94.90,195.70" stroke="#a0a052" stroke-width="1.5" fill="none" stroke-linecap="round" stroke-linejoin="round"/>
<path d="M28.90,232.90 C29.30,231.83 29.37,230.52 30.10,229.70 C31.27,228.38 33.01,227.43 34.60,226.50 C37.41,224.86 40.47,223.62 43.30,222.00 C49.14,218.66 54.83,215.07 60.60,211.60 C66.37,208.13 72.04,204.48 77.90,201.20 C80.14,199.95 82.52,198.93 84.90,198.00 C86.52,197.37 88.20,196.81 89.90,196.50 C91.53,196.21 93.23,196.30 94.90,196.20" stroke="#1e1e62" stroke-width="1.6" fill="none" stroke-linecap="round" stroke-linejoin="round"/>
<path d="M28.90,232.65 C29.30,231.58 29.37,230.27 30.10,229.45 C31.27,228.13 33.01,227.18 34.60,226.25 C37.41,224.61 40.47,223.37 43.30,221.75 C49.14,218.41 54.83,214.82 60.60,211.35 C66.37,207.88 72.04,204.23 77.90,200.95 C80.14,199.70 82.52,198.68 84.90,197.75 C86.52,197.12 88.20,196.56 89.90,196.25 C91.53,195.96 93.23,196.05 94.90,195.95" stroke="#602828" stroke-width="1.6" fill="none" stroke-linecap="round" stroke-linejoin="round"/>
<path d="M28.90,232.40 C29.30,231.33 29.37,230.02 30.10,229.20 C31.27,227.88 33.01,226.93 34.60,226.00 C37.41,224.36 40.47,223.12 43.30,221.50 C49.14,218.16 54.83,214.57 60.60,211.10 C66.37,207.63 72.04,203.98 77.90,200.70 C80.14,199.45 82.52,198.43 84.90,197.50 C86.52,196.87 88.20,196.31 89.90,196.00 C91.53,195.71 93.23,195.80 94.90,195.70" stroke="#2f7240" stroke-width="1.6" fill="none" stroke-linecap="round" stroke-linejoin="round"/>
<line x1="28.90" y1="176.20" x2="28.90" y2="179.70" stroke="#a08060" stroke-width="1.5" stroke-linecap="butt"/>
<line x1="28.90" y1="179.70" x2="28.90" y2="182.20" stroke="#306080" stroke-width="1.5" stroke-linecap="butt"/>
<line x1="28.90" y1="182.20" x2="28.90" y2="186.20" stroke="#60c8f0" stroke-width="1.5" stroke-linecap="butt"/>
<line x1="28.90" y1="186.20" x2="28.90" y2="189.20" stroke="#7868c8" stroke-width="1.5" stroke-linecap="butt"/>
<line x1="28.90" y1="189.20" x2="28.90" y2="192.40" stroke="#d848c8" stroke-width="1.5" stroke-linecap="butt"/>
<line x1="28.90" y1="232.40" x2="28.90" y2="246.70" stroke="#2f7240" stroke-width="1.6" stroke-linecap="butt"/>
<path d="M28.90,226.70 C29.37,227.53 29.57,228.64 30.30,229.20 C31.74,230.31 33.70,230.86 35.40,231.70 C37.90,232.93 40.29,234.48 42.90,235.40 C45.42,236.28 48.15,236.66 50.80,237.10 C52.81,237.43 54.86,237.68 56.90,237.70 C59.23,237.72 61.65,237.77 63.90,237.20 C68.85,235.94 73.58,233.68 78.50,232.20 C82.01,231.15 85.59,230.13 89.20,229.60 C92.39,229.13 95.67,229.29 98.90,229.20 C100.57,229.15 102.23,229.20 103.90,229.20" stroke="#dca860" stroke-width="1.7" fill="none" stroke-linecap="round" stroke-linejoin="round"/>
<path d="M28.90,226.40 C29.37,227.23 29.57,228.34 30.30,228.90 C31.74,230.01 33.70,230.56 35.40,231.40 C37.90,232.63 40.29,234.18 42.90,235.10 C45.42,235.98 48.15,236.36 50.80,236.80 C52.81,237.13 54.86,237.38 56.90,237.40 C59.23,237.42 61.62,237.39 63.90,236.90 C68.82,235.85 73.61,234.09 78.50,232.80 C82.05,231.86 85.59,230.73 89.20,230.20 C92.39,229.73 95.67,229.89 98.90,229.80 C100.57,229.75 102.23,229.80 103.90,229.80" stroke="#60d8f0" stroke-width="1.6" fill="none" stroke-linecap="round" stroke-linejoin="round"/>
<path d="M28.90,226.40 C29.37,227.23 29.57,228.34 30.30,228.90 C31.74,230.01 33.70,230.56 35.40,231.40 C37.90,232.63 40.29,234.18 42.90,235.10 C45.42,235.98 48.15,236.36 50.80,236.80 C52.81,237.13 54.86,237.38 56.90,237.40 C59.23,237.42 61.62,237.39 63.90,236.90 C68.82,235.85 73.61,234.09 78.50,232.80 C82.05,231.86 85.59,230.73 89.20,230.20 C92.39,229.73 95.67,229.89 98.90,229.80 C100.57,229.75 102.23,229.80 103.90,229.80" stroke="#cc58d4" stroke-width="1.7" fill="none" stroke-linecap="round" stroke-linejoin="round"/>
<path d="M28.90,226.90 C29.37,227.73 29.57,228.84 30.30,229.40 C31.74,230.51 33.70,231.06 35.40,231.90 C37.90,233.13 40.29,234.68 42.90,235.60 C45.42,236.48 48.15,236.86 50.80,237.30 C52.81,237.63 54.86,237.88 56.90,237.90 C59.23,237.92 61.62,237.89 63.90,237.40 C68.82,236.35 73.61,234.59 78.50,233.30 C82.05,232.36 85.59,231.23 89.20,230.70 C92.39,230.23 95.67,230.39 98.90,230.30 C100.57,230.25 102.23,230.30 103.90,230.30" stroke="#c24c64" stroke-width="1.8" fill="none" stroke-linecap="round" stroke-linejoin="round"/>
<path d="M28.90,256.60 C32.23,255.07 35.57,253.53 38.90,252.00 C42.23,250.47 45.56,248.92 48.90,247.40 C52.23,245.89 55.57,244.41 58.90,242.90 C62.24,241.38 65.58,239.85 68.90,238.30 C71.58,237.05 74.22,235.74 76.90,234.50 C78.89,233.58 80.83,232.51 82.90,231.80 C84.83,231.14 86.87,230.69 88.90,230.40 C90.87,230.12 92.90,230.20 94.90,230.10" stroke="#a0a052" stroke-width="1.5" fill="none" stroke-linecap="round" stroke-linejoin="round"/>
<path d="M28.90,267.30 C29.30,266.23 29.37,264.92 30.10,264.10 C31.27,262.78 33.01,261.83 34.60,260.90 C37.41,259.26 40.47,258.02 43.30,256.40 C49.14,253.06 54.83,249.47 60.60,246.00 C66.37,242.53 72.04,238.88 77.90,235.60 C80.14,234.35 82.52,233.33 84.90,232.40 C86.52,231.77 88.20,231.21 89.90,230.90 C91.53,230.61 93.23,230.70 94.90,230.60" stroke="#1e1e62" stroke-width="1.6" fill="none" stroke-linecap="round" stroke-linejoin="round"/>
<path d="M28.90,267.05 C29.30,265.98 29.37,264.67 30.10,263.85 C31.27,262.53 33.01,261.58 34.60,260.65 C37.41,259.01 40.47,257.77 43.30,256.15 C49.14,252.81 54.83,249.22 60.60,245.75 C66.37,242.28 72.04,238.63 77.90,235.35 C80.14,234.10 82.52,233.08 84.90,232.15 C86.52,231.52 88.20,230.96 89.90,230.65 C91.53,230.36 93.23,230.45 94.90,230.35" stroke="#602828" stroke-width="1.6" fill="none" stroke-linecap="round" stroke-linejoin="round"/>
<path d="M28.90,266.80 C29.30,265.73 29.37,264.42 30.10,263.60 C31.27,262.28 33.01,261.33 34.60,260.40 C37.41,258.76 40.47,257.52 43.30,255.90 C49.14,252.56 54.83,248.97 60.60,245.50 C66.37,242.03 72.04,238.38 77.90,235.10 C80.14,233.85 82.52,232.83 84.90,231.90 C86.52,231.27 88.20,230.71 89.90,230.40 C91.53,230.11 93.23,230.20 94.90,230.10" stroke="#2f7240" stroke-width="1.6" fill="none" stroke-linecap="round" stroke-linejoin="round"/>
<line x1="28.90" y1="210.60" x2="28.90" y2="214.10" stroke="#a08060" stroke-width="1.5" stroke-linecap="butt"/>
<line x1="28.90" y1="214.10" x2="28.90" y2="216.60" stroke="#306080" stroke-width="1.5" stroke-linecap="butt"/>
<line x1="28.90" y1="216.60" x2="28.90" y2="220.60" stroke="#60c8f0" stroke-width="1.5" stroke-linecap="butt"/>
<line x1="28.90" y1="220.60" x2="28.90" y2="223.60" stroke="#7868c8" stroke-width="1.5" stroke-linecap="butt"/>
<line x1="28.90" y1="223.60" x2="28.90" y2="226.80" stroke="#d848c8" stroke-width="1.5" stroke-linecap="butt"/>
<line x1="28.90" y1="266.80" x2="28.90" y2="281.10" stroke="#2f7240" stroke-width="1.6" stroke-linecap="butt"/>
<line x1="86.90" y1="195.70" x2="153.80" y2="195.70" stroke="#3a7a3a" stroke-width="1.5"/>
<line x1="86.90" y1="230.10" x2="153.80" y2="230.10" stroke="#3a7a3a" stroke-width="1.5"/>
<text x="131.40" y="202.70" font-size="7.2" text-anchor="start" font-weight="bold" font-style="italic" fill="#111" stroke="#111" stroke-width="0.22">E<tspan font-size="4.6" dy="1.4">c</tspan></text>
<text x="131.40" y="223.50" font-size="7.2" text-anchor="start" font-weight="bold" font-style="italic" fill="#111" stroke="#111" stroke-width="0.22">E<tspan font-size="4.6" dy="1.4">F</tspan></text>
<text x="131.40" y="237.10" font-size="7.2" text-anchor="start" font-weight="bold" font-style="italic" fill="#111" stroke="#111" stroke-width="0.22">E<tspan font-size="4.6" dy="1.4">v</tspan></text>
<text x="71.60" y="181.90" font-size="9.1" text-anchor="start" font-weight="bold" font-style="normal" fill="#111" stroke="#111" stroke-width="0.27">Step=1.2V</text>
<text x="1.00" y="177.60" font-size="15.5" text-anchor="start" font-weight="bold" font-style="normal" fill="#111" stroke="#111" stroke-width="0.46">d</text>
<line x1="87.20" y1="249.90" x2="103.40" y2="249.90" stroke="#c44862" stroke-width="1.5"/>
<text x="104.00" y="252.40" font-size="7.1" text-anchor="start" font-weight="bold" font-style="normal" fill="#111" stroke="#111" stroke-width="0.21">-6V</text>
<line x1="87.20" y1="258.40" x2="103.40" y2="258.40" stroke="#5cc85c" stroke-width="1.5"/>
<text x="104.00" y="260.90" font-size="7.1" text-anchor="start" font-weight="bold" font-style="normal" fill="#111" stroke="#111" stroke-width="0.21">-4.8V</text>
<line x1="87.20" y1="266.90" x2="103.40" y2="266.90" stroke="#383896" stroke-width="1.5"/>
<text x="104.00" y="269.40" font-size="7.1" text-anchor="start" font-weight="bold" font-style="normal" fill="#111" stroke="#111" stroke-width="0.21">-3.6V</text>
<line x1="87.20" y1="275.40" x2="103.40" y2="275.40" stroke="#60d8f0" stroke-width="1.5"/>
<text x="104.00" y="277.90" font-size="7.1" text-anchor="start" font-weight="bold" font-style="normal" fill="#111" stroke="#111" stroke-width="0.21">-2.4V</text>
<line x1="87.20" y1="283.90" x2="103.40" y2="283.90" stroke="#cc58d4" stroke-width="1.5"/>
<text x="104.00" y="286.40" font-size="7.1" text-anchor="start" font-weight="bold" font-style="normal" fill="#111" stroke="#111" stroke-width="0.21">-1.2V</text>
<line x1="87.20" y1="292.40" x2="103.40" y2="292.40" stroke="#dca860" stroke-width="1.5"/>
<text x="104.00" y="294.90" font-size="7.1" text-anchor="start" font-weight="bold" font-style="normal" fill="#111" stroke="#111" stroke-width="0.21">0V</text>
<line x1="122.40" y1="249.90" x2="138.60" y2="249.90" stroke="#a0a052" stroke-width="1.5"/>
<text x="139.40" y="252.40" font-size="7.1" text-anchor="start" font-weight="bold" font-style="normal" fill="#111" stroke="#111" stroke-width="0.21">1.2V</text>
<line x1="122.40" y1="258.40" x2="138.60" y2="258.40" stroke="#1e1e62" stroke-width="1.5"/>
<text x="139.40" y="260.90" font-size="7.1" text-anchor="start" font-weight="bold" font-style="normal" fill="#111" stroke="#111" stroke-width="0.21">2.4V</text>
<line x1="122.40" y1="266.90" x2="138.60" y2="266.90" stroke="#603060" stroke-width="1.5"/>
<text x="139.40" y="269.40" font-size="7.1" text-anchor="start" font-weight="bold" font-style="normal" fill="#111" stroke="#111" stroke-width="0.21">3.6V</text>
<line x1="122.40" y1="275.40" x2="138.60" y2="275.40" stroke="#602828" stroke-width="1.5"/>
<text x="139.40" y="277.90" font-size="7.1" text-anchor="start" font-weight="bold" font-style="normal" fill="#111" stroke="#111" stroke-width="0.21">4.8V</text>
<line x1="122.40" y1="283.90" x2="138.60" y2="283.90" stroke="#2f7240" stroke-width="1.5"/>
<text x="139.40" y="286.40" font-size="7.1" text-anchor="start" font-weight="bold" font-style="normal" fill="#111" stroke="#111" stroke-width="0.21">6V</text>
<defs><linearGradient id="ge" x1="0" y1="178.6" x2="0" y2="246.0" gradientUnits="userSpaceOnUse">
<stop offset="0" stop-color="#c81e1e"/>
<stop offset="0.12" stop-color="#f07820"/>
<stop offset="0.25" stop-color="#e0d030"/>
<stop offset="0.4" stop-color="#9aa838"/>
<stop offset="0.6" stop-color="#6a9a38"/>
<stop offset="1" stop-color="#4a8a3a"/>
</linearGradient></defs>
<path d="M198.85,178.60 L201.55,178.60 L201.55,239.50 L202.30,239.50 L200.20,246.00 L198.10,239.50 L198.85,239.50 Z" fill="url(#ge)"/>
<line x1="215.40" y1="226.90" x2="327.00" y2="226.90" stroke="#333" stroke-width="0.9" stroke-dasharray="2.6,2.1"/>
<path d="M204.50,192.30 C205.00,193.13 205.33,194.13 206.00,194.80 C206.70,195.50 207.74,195.86 208.60,196.40 C210.50,197.59 212.34,198.92 214.30,200.00 C216.80,201.38 219.32,202.88 222.00,203.80 C224.15,204.54 226.52,204.92 228.80,205.00 C231.02,205.08 233.33,204.82 235.50,204.30 C238.76,203.52 241.89,202.13 245.10,201.10 C248.22,200.10 251.33,199.00 254.50,198.20 C257.13,197.54 259.82,197.06 262.50,196.70 C264.82,196.39 267.16,196.30 269.50,196.20 C271.16,196.13 272.83,196.20 274.50,196.20" stroke="#dca860" stroke-width="1.6" fill="none" stroke-linecap="round" stroke-linejoin="round"/>
<path d="M204.50,192.85 C205.00,193.68 205.33,194.68 206.00,195.35 C206.70,196.05 207.74,196.41 208.60,196.95 C210.50,198.14 212.34,199.47 214.30,200.55 C216.80,201.93 219.32,203.43 222.00,204.35 C224.15,205.09 226.52,205.47 228.80,205.55 C231.02,205.63 233.30,205.27 235.50,204.85 C238.73,204.24 241.92,203.34 245.10,202.45 C248.26,201.57 251.33,200.35 254.50,199.55 C257.13,198.89 259.82,198.41 262.50,198.05 C264.82,197.74 267.16,197.65 269.50,197.55 C271.16,197.48 272.83,197.55 274.50,197.55" stroke="#c44862" stroke-width="1.9" fill="none" stroke-linecap="round" stroke-linejoin="round"/>
<path d="M204.50,192.15 C205.00,192.98 205.33,193.98 206.00,194.65 C206.70,195.35 207.74,195.71 208.60,196.25 C210.50,197.44 212.34,198.77 214.30,199.85 C216.80,201.23 219.32,202.73 222.00,203.65 C224.15,204.39 226.52,204.77 228.80,204.85 C231.02,204.93 233.30,204.57 235.50,204.15 C238.73,203.54 241.92,202.64 245.10,201.75 C248.26,200.87 251.33,199.65 254.50,198.85 C257.13,198.19 259.82,197.71 262.50,197.35 C264.82,197.04 267.16,196.95 269.50,196.85 C271.16,196.78 272.83,196.85 274.50,196.85" stroke="#cc58d4" stroke-width="1.8" fill="none" stroke-linecap="round" stroke-linejoin="round"/>
<path d="M204.00,223.30 C207.50,221.87 211.03,220.51 214.50,219.00 C217.86,217.54 221.19,215.99 224.50,214.40 C227.86,212.79 231.17,211.07 234.50,209.40 C237.83,207.73 241.15,206.04 244.50,204.40 C247.15,203.10 249.78,201.74 252.50,200.60 C254.45,199.78 256.46,199.06 258.50,198.50 C260.46,197.96 262.48,197.55 264.50,197.30 C266.48,197.05 268.50,197.10 270.50,197.00" stroke="#a0a052" stroke-width="1.5" fill="none" stroke-linecap="round" stroke-linejoin="round"/>
<path d="M204.50,235.00 C204.83,234.27 205.03,233.43 205.50,232.80 C206.03,232.10 206.79,231.55 207.50,231.00 C209.12,229.75 210.83,228.60 212.50,227.40 C216.10,224.80 219.57,222.00 223.30,219.60 C229.60,215.54 236.19,211.91 242.60,208.00 C246.26,205.77 249.73,203.18 253.50,201.20 C255.69,200.05 258.11,199.24 260.50,198.60 C262.44,198.08 264.49,197.87 266.50,197.70 C268.49,197.53 270.50,197.63 272.50,197.60" stroke="#1e1e62" stroke-width="1.6" fill="none" stroke-linecap="round" stroke-linejoin="round"/>
<path d="M204.50,234.70 C204.83,233.97 205.03,233.13 205.50,232.50 C206.03,231.80 206.79,231.25 207.50,230.70 C209.12,229.45 210.83,228.30 212.50,227.10 C216.10,224.50 219.57,221.70 223.30,219.30 C229.60,215.24 236.19,211.61 242.60,207.70 C246.26,205.47 249.73,202.88 253.50,200.90 C255.69,199.75 258.11,198.94 260.50,198.30 C262.44,197.78 264.49,197.57 266.50,197.40 C268.49,197.23 270.50,197.33 272.50,197.30" stroke="#602828" stroke-width="1.6" fill="none" stroke-linecap="round" stroke-linejoin="round"/>
<path d="M204.50,234.40 C204.83,233.67 205.03,232.83 205.50,232.20 C206.03,231.50 206.79,230.95 207.50,230.40 C209.12,229.15 210.83,228.00 212.50,226.80 C216.10,224.20 219.57,221.40 223.30,219.00 C229.60,214.94 236.19,211.31 242.60,207.40 C246.26,205.17 249.73,202.58 253.50,200.60 C255.69,199.45 258.11,198.64 260.50,198.00 C262.44,197.48 264.49,197.27 266.50,197.10 C268.49,196.93 270.50,197.03 272.50,197.00" stroke="#2f7240" stroke-width="1.6" fill="none" stroke-linecap="round" stroke-linejoin="round"/>
<line x1="204.50" y1="178.40" x2="204.50" y2="181.50" stroke="#203858" stroke-width="1.5" stroke-linecap="butt"/>
<line x1="204.50" y1="181.50" x2="204.50" y2="183.50" stroke="#3868a0" stroke-width="1.5" stroke-linecap="butt"/>
<line x1="204.50" y1="183.50" x2="204.50" y2="188.50" stroke="#60c8f0" stroke-width="1.5" stroke-linecap="butt"/>
<line x1="204.50" y1="188.50" x2="204.50" y2="192.40" stroke="#7060d0" stroke-width="1.5" stroke-linecap="butt"/>
<line x1="204.50" y1="234.40" x2="204.50" y2="248.00" stroke="#2f7240" stroke-width="1.6" stroke-linecap="butt"/>
<path d="M204.50,226.90 C205.00,227.73 205.33,228.73 206.00,229.40 C206.70,230.10 207.74,230.46 208.60,231.00 C210.50,232.19 212.34,233.52 214.30,234.60 C216.80,235.98 219.32,237.48 222.00,238.40 C224.15,239.14 226.52,239.52 228.80,239.60 C231.02,239.68 233.33,239.42 235.50,238.90 C238.76,238.12 241.89,236.73 245.10,235.70 C248.22,234.70 251.33,233.60 254.50,232.80 C257.13,232.14 259.82,231.66 262.50,231.30 C264.82,230.99 267.16,230.90 269.50,230.80 C271.16,230.73 272.83,230.80 274.50,230.80" stroke="#dca860" stroke-width="1.6" fill="none" stroke-linecap="round" stroke-linejoin="round"/>
<path d="M204.50,227.45 C205.00,228.28 205.33,229.28 206.00,229.95 C206.70,230.65 207.74,231.01 208.60,231.55 C210.50,232.74 212.34,234.07 214.30,235.15 C216.80,236.53 219.32,238.03 222.00,238.95 C224.15,239.69 226.52,240.07 228.80,240.15 C231.02,240.23 233.30,239.87 235.50,239.45 C238.73,238.84 241.92,237.94 245.10,237.05 C248.26,236.17 251.33,234.95 254.50,234.15 C257.13,233.49 259.82,233.01 262.50,232.65 C264.82,232.34 267.16,232.25 269.50,232.15 C271.16,232.08 272.83,232.15 274.50,232.15" stroke="#c44862" stroke-width="1.9" fill="none" stroke-linecap="round" stroke-linejoin="round"/>
<path d="M204.50,226.75 C205.00,227.58 205.33,228.58 206.00,229.25 C206.70,229.95 207.74,230.31 208.60,230.85 C210.50,232.04 212.34,233.37 214.30,234.45 C216.80,235.83 219.32,237.33 222.00,238.25 C224.15,238.99 226.52,239.37 228.80,239.45 C231.02,239.53 233.30,239.17 235.50,238.75 C238.73,238.14 241.92,237.24 245.10,236.35 C248.26,235.47 251.33,234.25 254.50,233.45 C257.13,232.79 259.82,232.31 262.50,231.95 C264.82,231.64 267.16,231.55 269.50,231.45 C271.16,231.38 272.83,231.45 274.50,231.45" stroke="#cc58d4" stroke-width="1.8" fill="none" stroke-linecap="round" stroke-linejoin="round"/>
<path d="M204.00,257.90 C207.50,256.47 211.03,255.11 214.50,253.60 C217.86,252.14 221.19,250.59 224.50,249.00 C227.86,247.39 231.17,245.67 234.50,244.00 C237.83,242.33 241.15,240.64 244.50,239.00 C247.15,237.70 249.78,236.34 252.50,235.20 C254.45,234.38 256.46,233.66 258.50,233.10 C260.46,232.56 262.48,232.15 264.50,231.90 C266.48,231.65 268.50,231.70 270.50,231.60" stroke="#a0a052" stroke-width="1.5" fill="none" stroke-linecap="round" stroke-linejoin="round"/>
<path d="M204.50,269.60 C204.83,268.87 205.03,268.03 205.50,267.40 C206.03,266.70 206.79,266.15 207.50,265.60 C209.12,264.35 210.83,263.20 212.50,262.00 C216.10,259.40 219.57,256.60 223.30,254.20 C229.60,250.14 236.19,246.51 242.60,242.60 C246.26,240.37 249.73,237.78 253.50,235.80 C255.69,234.65 258.11,233.84 260.50,233.20 C262.44,232.68 264.49,232.47 266.50,232.30 C268.49,232.13 270.50,232.23 272.50,232.20" stroke="#1e1e62" stroke-width="1.6" fill="none" stroke-linecap="round" stroke-linejoin="round"/>
<path d="M204.50,269.30 C204.83,268.57 205.03,267.73 205.50,267.10 C206.03,266.40 206.79,265.85 207.50,265.30 C209.12,264.05 210.83,262.90 212.50,261.70 C216.10,259.10 219.57,256.30 223.30,253.90 C229.60,249.84 236.19,246.21 242.60,242.30 C246.26,240.07 249.73,237.48 253.50,235.50 C255.69,234.35 258.11,233.54 260.50,232.90 C262.44,232.38 264.49,232.17 266.50,232.00 C268.49,231.83 270.50,231.93 272.50,231.90" stroke="#602828" stroke-width="1.6" fill="none" stroke-linecap="round" stroke-linejoin="round"/>
<path d="M204.50,269.00 C204.83,268.27 205.03,267.43 205.50,266.80 C206.03,266.10 206.79,265.55 207.50,265.00 C209.12,263.75 210.83,262.60 212.50,261.40 C216.10,258.80 219.57,256.00 223.30,253.60 C229.60,249.54 236.19,245.91 242.60,242.00 C246.26,239.77 249.73,237.18 253.50,235.20 C255.69,234.05 258.11,233.24 260.50,232.60 C262.44,232.08 264.49,231.87 266.50,231.70 C268.49,231.53 270.50,231.63 272.50,231.60" stroke="#2f7240" stroke-width="1.6" fill="none" stroke-linecap="round" stroke-linejoin="round"/>
<line x1="204.50" y1="213.00" x2="204.50" y2="216.10" stroke="#203858" stroke-width="1.5" stroke-linecap="butt"/>
<line x1="204.50" y1="216.10" x2="204.50" y2="218.10" stroke="#3868a0" stroke-width="1.5" stroke-linecap="butt"/>
<line x1="204.50" y1="218.10" x2="204.50" y2="223.10" stroke="#60c8f0" stroke-width="1.5" stroke-linecap="butt"/>
<line x1="204.50" y1="223.10" x2="204.50" y2="227.00" stroke="#7060d0" stroke-width="1.5" stroke-linecap="butt"/>
<line x1="204.50" y1="269.00" x2="204.50" y2="282.60" stroke="#2f7240" stroke-width="1.6" stroke-linecap="butt"/>
<line x1="262.50" y1="197.00" x2="329.00" y2="197.00" stroke="#3a7a3a" stroke-width="1.5"/>
<line x1="262.50" y1="231.60" x2="329.00" y2="231.60" stroke="#3a7a3a" stroke-width="1.5"/>
<text x="307.00" y="204.00" font-size="7.2" text-anchor="start" font-weight="bold" font-style="italic" fill="#111" stroke="#111" stroke-width="0.22">E<tspan font-size="4.6" dy="1.4">c</tspan></text>
<text x="307.00" y="224.90" font-size="7.2" text-anchor="start" font-weight="bold" font-style="italic" fill="#111" stroke="#111" stroke-width="0.22">E<tspan font-size="4.6" dy="1.4">F</tspan></text>
<text x="307.00" y="238.60" font-size="7.2" text-anchor="start" font-weight="bold" font-style="italic" fill="#111" stroke="#111" stroke-width="0.22">E<tspan font-size="4.6" dy="1.4">v</tspan></text>
<text x="247.00" y="183.10" font-size="9.1" text-anchor="start" font-weight="bold" font-style="normal" fill="#111" stroke="#111" stroke-width="0.27">Step=1.2V</text>
<text x="178.60" y="178.20" font-size="15.5" text-anchor="start" font-weight="bold" font-style="normal" fill="#111" stroke="#111" stroke-width="0.46">e</text>
<line x1="264.00" y1="251.20" x2="280.20" y2="251.20" stroke="#c44862" stroke-width="1.5"/>
<text x="280.80" y="253.70" font-size="7.1" text-anchor="start" font-weight="bold" font-style="normal" fill="#111" stroke="#111" stroke-width="0.21">-6V</text>
<line x1="264.00" y1="259.70" x2="280.20" y2="259.70" stroke="#5cc85c" stroke-width="1.5"/>
<text x="280.80" y="262.20" font-size="7.1" text-anchor="start" font-weight="bold" font-style="normal" fill="#111" stroke="#111" stroke-width="0.21">-4.8V</text>
<line x1="264.00" y1="268.20" x2="280.20" y2="268.20" stroke="#383896" stroke-width="1.5"/>
<text x="280.80" y="270.70" font-size="7.1" text-anchor="start" font-weight="bold" font-style="normal" fill="#111" stroke="#111" stroke-width="0.21">-3.6V</text>
<line x1="264.00" y1="276.70" x2="280.20" y2="276.70" stroke="#60d8f0" stroke-width="1.5"/>
<text x="280.80" y="279.20" font-size="7.1" text-anchor="start" font-weight="bold" font-style="normal" fill="#111" stroke="#111" stroke-width="0.21">-2.4V</text>
<line x1="264.00" y1="285.20" x2="280.20" y2="285.20" stroke="#cc58d4" stroke-width="1.5"/>
<text x="280.80" y="287.70" font-size="7.1" text-anchor="start" font-weight="bold" font-style="normal" fill="#111" stroke="#111" stroke-width="0.21">-1.2V</text>
<line x1="264.00" y1="293.70" x2="280.20" y2="293.70" stroke="#dca860" stroke-width="1.5"/>
<text x="280.80" y="296.20" font-size="7.1" text-anchor="start" font-weight="bold" font-style="normal" fill="#111" stroke="#111" stroke-width="0.21">0V</text>
<line x1="300.30" y1="251.20" x2="316.50" y2="251.20" stroke="#a0a052" stroke-width="1.5"/>
<text x="317.00" y="253.70" font-size="7.1" text-anchor="start" font-weight="bold" font-style="normal" fill="#111" stroke="#111" stroke-width="0.21">1.2V</text>
<line x1="300.30" y1="259.70" x2="316.50" y2="259.70" stroke="#1e1e62" stroke-width="1.5"/>
<text x="317.00" y="262.20" font-size="7.1" text-anchor="start" font-weight="bold" font-style="normal" fill="#111" stroke="#111" stroke-width="0.21">2.4V</text>
<line x1="300.30" y1="268.20" x2="316.50" y2="268.20" stroke="#603060" stroke-width="1.5"/>
<text x="317.00" y="270.70" font-size="7.1" text-anchor="start" font-weight="bold" font-style="normal" fill="#111" stroke="#111" stroke-width="0.21">3.6V</text>
<line x1="300.30" y1="276.70" x2="316.50" y2="276.70" stroke="#602828" stroke-width="1.5"/>
<text x="317.00" y="279.20" font-size="7.1" text-anchor="start" font-weight="bold" font-style="normal" fill="#111" stroke="#111" stroke-width="0.21">4.8V</text>
<line x1="300.30" y1="285.20" x2="316.50" y2="285.20" stroke="#2f7240" stroke-width="1.5"/>
<text x="317.00" y="287.70" font-size="7.1" text-anchor="start" font-weight="bold" font-style="normal" fill="#111" stroke="#111" stroke-width="0.21">6V</text>
<defs><linearGradient id="gf" x1="0" y1="185.3" x2="0" y2="234.0" gradientUnits="userSpaceOnUse">
<stop offset="0" stop-color="#c81e1e"/>
<stop offset="0.15" stop-color="#f07820"/>
<stop offset="0.32" stop-color="#e0c830"/>
<stop offset="0.5" stop-color="#9aa838"/>
<stop offset="0.7" stop-color="#6a9a38"/>
<stop offset="1" stop-color="#4a8a3a"/>
</linearGradient></defs>
<path d="M378.65,185.30 L381.35,185.30 L381.35,227.50 L382.10,227.50 L380.00,234.00 L377.90,227.50 L378.65,227.50 Z" fill="url(#gf)"/>
<line x1="394.60" y1="225.40" x2="506.00" y2="225.40" stroke="#333" stroke-width="0.9" stroke-dasharray="2.6,2.1"/>
<path d="M384.20,197.50 C384.63,197.77 385.05,198.07 385.50,198.30 C386.81,198.97 388.15,199.61 389.50,200.20 C391.65,201.14 393.78,202.15 396.00,202.90 C397.95,203.55 399.98,204.01 402.00,204.40 C403.65,204.71 405.34,205.06 407.00,205.00 C409.34,204.92 411.77,204.68 414.00,204.00 C416.77,203.15 419.32,201.58 422.00,200.40 C424.32,199.38 426.60,198.19 429.00,197.40 C431.26,196.66 433.64,196.16 436.00,195.80 C437.97,195.50 440.00,195.48 442.00,195.40 C443.33,195.35 444.67,195.40 446.00,195.40" stroke="#dca860" stroke-width="1.6" fill="none" stroke-linecap="round" stroke-linejoin="round"/>
<path d="M384.00,191.50 C384.50,191.83 384.97,192.21 385.50,192.50 C386.81,193.21 388.24,193.72 389.50,194.50 C391.74,195.88 393.75,197.65 396.00,199.00 C397.91,200.15 399.93,201.17 402.00,202.00 C403.60,202.64 405.30,203.27 407.00,203.40 C409.30,203.57 411.73,203.41 414.00,202.90 C418.00,202.01 421.86,200.42 425.80,199.20 C428.53,198.35 431.23,197.40 434.00,196.70 C435.97,196.20 437.98,195.82 440.00,195.60 C441.98,195.39 444.00,195.47 446.00,195.40" stroke="#3ca0c8" stroke-width="1.5" fill="none" stroke-linecap="round" stroke-linejoin="round"/>
<path d="M384.00,191.90 C384.50,192.30 384.96,192.76 385.50,193.10 C386.79,193.90 388.21,194.50 389.50,195.30 C391.71,196.67 393.74,198.33 396.00,199.60 C397.91,200.67 399.94,201.57 402.00,202.30 C403.61,202.87 405.31,203.40 407.00,203.50 C409.31,203.63 411.73,203.52 414.00,203.00 C418.00,202.08 421.86,200.44 425.80,199.20 C428.53,198.34 431.23,197.40 434.00,196.70 C435.97,196.20 437.98,195.82 440.00,195.60 C441.98,195.39 444.00,195.47 446.00,195.40" stroke="#383896" stroke-width="1.5" fill="none" stroke-linecap="round" stroke-linejoin="round"/>
<path d="M384.00,192.60 C384.50,193.10 384.93,193.69 385.50,194.10 C386.76,195.02 388.16,195.78 389.50,196.60 C391.66,197.92 393.74,199.38 396.00,200.50 C397.91,201.45 399.96,202.19 402.00,202.80 C403.62,203.29 405.32,203.76 407.00,203.80 C409.32,203.86 411.73,203.65 414.00,203.10 C418.00,202.12 421.85,200.46 425.80,199.20 C428.52,198.33 431.23,197.40 434.00,196.70 C435.97,196.20 437.98,195.82 440.00,195.60 C441.98,195.39 444.00,195.47 446.00,195.40" stroke="#5cc85c" stroke-width="1.4" fill="none" stroke-linecap="round" stroke-linejoin="round"/>
<path d="M384.00,192.40 C384.50,192.87 384.94,193.41 385.50,193.80 C386.77,194.68 388.17,195.39 389.50,196.20 C391.67,197.52 393.74,199.04 396.00,200.20 C397.91,201.18 399.95,201.97 402.00,202.60 C403.62,203.10 405.32,203.54 407.00,203.60 C409.32,203.68 411.73,203.53 414.00,203.00 C418.00,202.06 421.86,200.44 425.80,199.20 C428.53,198.34 431.23,197.40 434.00,196.70 C435.97,196.20 437.98,195.82 440.00,195.60 C441.98,195.39 444.00,195.47 446.00,195.40" stroke="#7850b8" stroke-width="1.5" fill="none" stroke-linecap="round" stroke-linejoin="round"/>
<path d="M384.00,192.90 C384.50,193.40 384.94,193.98 385.50,194.40 C386.77,195.35 388.15,196.16 389.50,197.00 C391.65,198.33 393.74,199.80 396.00,200.90 C397.91,201.83 399.96,202.52 402.00,203.10 C403.62,203.56 405.32,203.97 407.00,204.00 C409.32,204.04 411.74,203.87 414.00,203.30 C418.01,202.30 421.86,200.60 425.80,199.30 C428.52,198.40 431.23,197.42 434.00,196.70 C435.96,196.19 437.98,195.82 440.00,195.60 C441.98,195.39 444.00,195.47 446.00,195.40" stroke="#cc58d4" stroke-width="1.5" fill="none" stroke-linecap="round" stroke-linejoin="round"/>
<path d="M384.00,193.40 C384.50,193.97 384.91,194.63 385.50,195.10 C386.75,196.10 388.13,196.95 389.50,197.80 C391.63,199.12 393.74,200.55 396.00,201.60 C397.90,202.48 399.96,203.08 402.00,203.60 C403.63,204.01 405.33,204.40 407.00,204.40 C409.33,204.40 411.74,204.20 414.00,203.60 C418.01,202.53 421.85,200.74 425.80,199.40 C428.51,198.48 431.23,197.54 434.00,196.80 C435.97,196.27 437.98,195.84 440.00,195.60 C441.98,195.37 444.00,195.47 446.00,195.40" stroke="#d04870" stroke-width="1.5" fill="none" stroke-linecap="round" stroke-linejoin="round"/>
<path d="M384.20,217.60 C386.80,216.83 389.40,216.07 392.00,215.30 C394.67,214.51 397.36,213.77 400.00,212.90 C403.36,211.80 406.69,210.63 410.00,209.40 C413.13,208.23 416.29,207.13 419.30,205.70 C422.62,204.13 425.72,202.07 429.00,200.40 C431.29,199.24 433.60,198.07 436.00,197.20 C437.93,196.50 439.97,196.00 442.00,195.70 C443.97,195.40 446.00,195.50 448.00,195.40" stroke="#a0a052" stroke-width="1.4" fill="none" stroke-linecap="round" stroke-linejoin="round"/>
<path d="M384.20,227.19 C385.67,225.96 386.99,224.48 388.60,223.49 C390.25,222.46 392.17,221.83 394.00,221.13 C395.97,220.39 398.07,219.99 400.00,219.15 C403.41,217.67 406.72,215.95 410.00,214.19 C413.16,212.49 416.34,210.80 419.30,208.80 C423.74,205.81 427.72,202.08 432.20,199.20 C434.15,197.95 436.39,197.09 438.60,196.40 C440.33,195.86 442.19,195.69 444.00,195.50 C445.32,195.36 446.67,195.43 448.00,195.40" stroke="#602828" stroke-width="1.4" fill="none" stroke-linecap="round" stroke-linejoin="round"/>
<path d="M384.20,226.50 C385.67,225.29 386.99,223.85 388.60,222.89 C390.26,221.91 392.17,221.32 394.00,220.67 C395.97,219.96 398.07,219.62 400.00,218.83 C403.40,217.43 406.73,215.79 410.00,214.09 C413.16,212.45 416.34,210.78 419.30,208.80 C423.74,205.82 427.72,202.08 432.20,199.20 C434.15,197.95 436.39,197.09 438.60,196.40 C440.33,195.86 442.19,195.69 444.00,195.50 C445.32,195.36 446.67,195.43 448.00,195.40" stroke="#603060" stroke-width="1.4" fill="none" stroke-linecap="round" stroke-linejoin="round"/>
<path d="M384.20,225.80 C385.67,224.63 386.99,223.22 388.60,222.30 C390.26,221.35 392.17,220.81 394.00,220.20 C395.97,219.54 398.07,219.25 400.00,218.50 C403.40,217.18 406.74,215.64 410.00,214.00 C413.17,212.41 416.35,210.77 419.30,208.80 C423.75,205.83 427.72,202.08 432.20,199.20 C434.15,197.95 436.39,197.09 438.60,196.40 C440.33,195.86 442.19,195.69 444.00,195.50 C445.32,195.36 446.67,195.43 448.00,195.40" stroke="#1e1e62" stroke-width="1.5" fill="none" stroke-linecap="round" stroke-linejoin="round"/>
<path d="M384.90,230.20 C385.43,229.10 385.66,227.75 386.50,226.90 C388.16,225.21 390.29,223.77 392.40,222.60 C394.79,221.27 397.51,220.56 400.00,219.40 C403.38,217.83 406.71,216.14 410.00,214.40 C413.14,212.74 416.36,211.18 419.30,209.20 C423.76,206.18 427.71,202.35 432.20,199.40 C434.15,198.12 436.39,197.23 438.60,196.50 C440.33,195.93 442.19,195.71 444.00,195.50 C445.32,195.35 446.67,195.43 448.00,195.40" stroke="#2f7240" stroke-width="1.5" fill="none" stroke-linecap="round" stroke-linejoin="round"/>
<line x1="384.00" y1="184.80" x2="384.00" y2="191.50" stroke="#707070" stroke-width="1.4" stroke-linecap="butt"/>
<line x1="384.00" y1="225.80" x2="384.00" y2="230.40" stroke="#303050" stroke-width="1.2" stroke-linecap="butt"/>
<line x1="384.00" y1="230.20" x2="384.00" y2="236.60" stroke="#2f7240" stroke-width="1.5" stroke-linecap="butt"/>
<path d="M384.20,231.70 C384.63,231.97 385.05,232.27 385.50,232.50 C386.81,233.17 388.15,233.81 389.50,234.40 C391.65,235.34 393.78,236.35 396.00,237.10 C397.95,237.75 399.98,238.21 402.00,238.60 C403.65,238.91 405.34,239.26 407.00,239.20 C409.34,239.12 411.77,238.88 414.00,238.20 C416.77,237.35 419.32,235.78 422.00,234.60 C424.32,233.58 426.60,232.39 429.00,231.60 C431.26,230.86 433.64,230.36 436.00,230.00 C437.97,229.70 440.00,229.68 442.00,229.60 C443.33,229.55 444.67,229.60 446.00,229.60" stroke="#dca860" stroke-width="1.6" fill="none" stroke-linecap="round" stroke-linejoin="round"/>
<path d="M384.00,225.70 C384.50,226.03 384.97,226.41 385.50,226.70 C386.81,227.41 388.24,227.92 389.50,228.70 C391.74,230.08 393.75,231.85 396.00,233.20 C397.91,234.35 399.93,235.37 402.00,236.20 C403.60,236.84 405.30,237.47 407.00,237.60 C409.30,237.77 411.73,237.61 414.00,237.10 C418.00,236.21 421.86,234.62 425.80,233.40 C428.53,232.55 431.23,231.60 434.00,230.90 C435.97,230.40 437.98,230.02 440.00,229.80 C441.98,229.59 444.00,229.67 446.00,229.60" stroke="#3ca0c8" stroke-width="1.5" fill="none" stroke-linecap="round" stroke-linejoin="round"/>
<path d="M384.00,226.10 C384.50,226.50 384.96,226.96 385.50,227.30 C386.79,228.10 388.21,228.70 389.50,229.50 C391.71,230.87 393.74,232.53 396.00,233.80 C397.91,234.87 399.94,235.77 402.00,236.50 C403.61,237.07 405.31,237.60 407.00,237.70 C409.31,237.83 411.73,237.72 414.00,237.20 C418.00,236.28 421.86,234.64 425.80,233.40 C428.53,232.54 431.23,231.60 434.00,230.90 C435.97,230.40 437.98,230.02 440.00,229.80 C441.98,229.59 444.00,229.67 446.00,229.60" stroke="#383896" stroke-width="1.5" fill="none" stroke-linecap="round" stroke-linejoin="round"/>
<path d="M384.00,226.80 C384.50,227.30 384.93,227.89 385.50,228.30 C386.76,229.22 388.16,229.98 389.50,230.80 C391.66,232.12 393.74,233.58 396.00,234.70 C397.91,235.65 399.96,236.39 402.00,237.00 C403.62,237.49 405.32,237.96 407.00,238.00 C409.32,238.06 411.73,237.85 414.00,237.30 C418.00,236.32 421.85,234.66 425.80,233.40 C428.52,232.53 431.23,231.60 434.00,230.90 C435.97,230.40 437.98,230.02 440.00,229.80 C441.98,229.59 444.00,229.67 446.00,229.60" stroke="#5cc85c" stroke-width="1.4" fill="none" stroke-linecap="round" stroke-linejoin="round"/>
<path d="M384.00,226.60 C384.50,227.07 384.94,227.61 385.50,228.00 C386.77,228.88 388.17,229.59 389.50,230.40 C391.67,231.72 393.74,233.24 396.00,234.40 C397.91,235.38 399.95,236.17 402.00,236.80 C403.62,237.30 405.32,237.74 407.00,237.80 C409.32,237.88 411.73,237.73 414.00,237.20 C418.00,236.26 421.86,234.64 425.80,233.40 C428.53,232.54 431.23,231.60 434.00,230.90 C435.97,230.40 437.98,230.02 440.00,229.80 C441.98,229.59 444.00,229.67 446.00,229.60" stroke="#7850b8" stroke-width="1.5" fill="none" stroke-linecap="round" stroke-linejoin="round"/>
<path d="M384.00,227.10 C384.50,227.60 384.94,228.18 385.50,228.60 C386.77,229.55 388.15,230.36 389.50,231.20 C391.65,232.53 393.74,234.00 396.00,235.10 C397.91,236.03 399.96,236.72 402.00,237.30 C403.62,237.76 405.32,238.17 407.00,238.20 C409.32,238.24 411.74,238.07 414.00,237.50 C418.01,236.50 421.86,234.80 425.80,233.50 C428.52,232.60 431.23,231.62 434.00,230.90 C435.96,230.39 437.98,230.02 440.00,229.80 C441.98,229.59 444.00,229.67 446.00,229.60" stroke="#cc58d4" stroke-width="1.5" fill="none" stroke-linecap="round" stroke-linejoin="round"/>
<path d="M384.00,227.60 C384.50,228.17 384.91,228.83 385.50,229.30 C386.75,230.30 388.13,231.15 389.50,232.00 C391.63,233.32 393.74,234.75 396.00,235.80 C397.90,236.68 399.96,237.28 402.00,237.80 C403.63,238.21 405.33,238.60 407.00,238.60 C409.33,238.60 411.74,238.40 414.00,237.80 C418.01,236.73 421.85,234.94 425.80,233.60 C428.51,232.68 431.23,231.74 434.00,231.00 C435.97,230.47 437.98,230.04 440.00,229.80 C441.98,229.57 444.00,229.67 446.00,229.60" stroke="#d04870" stroke-width="1.5" fill="none" stroke-linecap="round" stroke-linejoin="round"/>
<path d="M384.20,251.80 C386.80,251.03 389.40,250.27 392.00,249.50 C394.67,248.71 397.36,247.97 400.00,247.10 C403.36,246.00 406.69,244.83 410.00,243.60 C413.13,242.43 416.29,241.33 419.30,239.90 C422.62,238.33 425.72,236.27 429.00,234.60 C431.29,233.44 433.60,232.27 436.00,231.40 C437.93,230.70 439.97,230.20 442.00,229.90 C443.97,229.60 446.00,229.70 448.00,229.60" stroke="#a0a052" stroke-width="1.4" fill="none" stroke-linecap="round" stroke-linejoin="round"/>
<path d="M384.20,261.39 C385.67,260.16 386.99,258.68 388.60,257.69 C390.25,256.66 392.17,256.03 394.00,255.33 C395.97,254.59 398.07,254.19 400.00,253.35 C403.41,251.87 406.72,250.15 410.00,248.39 C413.16,246.69 416.34,245.00 419.30,243.00 C423.74,240.01 427.72,236.28 432.20,233.40 C434.15,232.15 436.39,231.29 438.60,230.60 C440.33,230.06 442.19,229.89 444.00,229.70 C445.32,229.56 446.67,229.63 448.00,229.60" stroke="#602828" stroke-width="1.4" fill="none" stroke-linecap="round" stroke-linejoin="round"/>
<path d="M384.20,260.70 C385.67,259.49 386.99,258.05 388.60,257.09 C390.26,256.11 392.17,255.52 394.00,254.87 C395.97,254.16 398.07,253.82 400.00,253.03 C403.40,251.63 406.73,249.99 410.00,248.29 C413.16,246.65 416.34,244.98 419.30,243.00 C423.74,240.02 427.72,236.28 432.20,233.40 C434.15,232.15 436.39,231.29 438.60,230.60 C440.33,230.06 442.19,229.89 444.00,229.70 C445.32,229.56 446.67,229.63 448.00,229.60" stroke="#603060" stroke-width="1.4" fill="none" stroke-linecap="round" stroke-linejoin="round"/>
<path d="M384.20,260.00 C385.67,258.83 386.99,257.42 388.60,256.50 C390.26,255.55 392.17,255.01 394.00,254.40 C395.97,253.74 398.07,253.45 400.00,252.70 C403.40,251.38 406.74,249.84 410.00,248.20 C413.17,246.61 416.35,244.97 419.30,243.00 C423.75,240.03 427.72,236.28 432.20,233.40 C434.15,232.15 436.39,231.29 438.60,230.60 C440.33,230.06 442.19,229.89 444.00,229.70 C445.32,229.56 446.67,229.63 448.00,229.60" stroke="#1e1e62" stroke-width="1.5" fill="none" stroke-linecap="round" stroke-linejoin="round"/>
<path d="M384.90,264.40 C385.43,263.30 385.66,261.95 386.50,261.10 C388.16,259.41 390.29,257.97 392.40,256.80 C394.79,255.47 397.51,254.76 400.00,253.60 C403.38,252.03 406.71,250.34 410.00,248.60 C413.14,246.94 416.36,245.38 419.30,243.40 C423.76,240.38 427.71,236.55 432.20,233.60 C434.15,232.32 436.39,231.43 438.60,230.70 C440.33,230.13 442.19,229.91 444.00,229.70 C445.32,229.55 446.67,229.63 448.00,229.60" stroke="#2f7240" stroke-width="1.5" fill="none" stroke-linecap="round" stroke-linejoin="round"/>
<line x1="384.00" y1="219.00" x2="384.00" y2="225.70" stroke="#707070" stroke-width="1.4" stroke-linecap="butt"/>
<line x1="384.00" y1="260.00" x2="384.00" y2="264.60" stroke="#303050" stroke-width="1.2" stroke-linecap="butt"/>
<line x1="384.00" y1="264.40" x2="384.00" y2="270.80" stroke="#2f7240" stroke-width="1.5" stroke-linecap="butt"/>
<line x1="440.00" y1="195.40" x2="508.80" y2="195.40" stroke="#3a7a3a" stroke-width="1.5"/>
<line x1="440.00" y1="229.60" x2="508.80" y2="229.60" stroke="#3a7a3a" stroke-width="1.5"/>
<text x="487.00" y="202.40" font-size="7.2" text-anchor="start" font-weight="bold" font-style="italic" fill="#111" stroke="#111" stroke-width="0.22">E<tspan font-size="4.6" dy="1.4">c</tspan></text>
<text x="487.00" y="223.40" font-size="7.2" text-anchor="start" font-weight="bold" font-style="italic" fill="#111" stroke="#111" stroke-width="0.22">E<tspan font-size="4.6" dy="1.4">F</tspan></text>
<text x="487.00" y="236.60" font-size="7.2" text-anchor="start" font-weight="bold" font-style="italic" fill="#111" stroke="#111" stroke-width="0.22">E<tspan font-size="4.6" dy="1.4">v</tspan></text>
<text x="426.20" y="182.10" font-size="9.1" text-anchor="start" font-weight="bold" font-style="normal" fill="#111" stroke="#111" stroke-width="0.27">Step=1.2V</text>
<text x="356.60" y="178.00" font-size="15.5" text-anchor="start" font-weight="bold" font-style="normal" fill="#111" stroke="#111" stroke-width="0.46">f</text>
<line x1="443.50" y1="248.70" x2="459.70" y2="248.70" stroke="#c44862" stroke-width="1.5"/>
<text x="460.20" y="251.20" font-size="7.1" text-anchor="start" font-weight="bold" font-style="normal" fill="#111" stroke="#111" stroke-width="0.21">-6V</text>
<line x1="443.50" y1="257.25" x2="459.70" y2="257.25" stroke="#5cc85c" stroke-width="1.5"/>
<text x="460.20" y="259.75" font-size="7.1" text-anchor="start" font-weight="bold" font-style="normal" fill="#111" stroke="#111" stroke-width="0.21">-4.8V</text>
<line x1="443.50" y1="265.80" x2="459.70" y2="265.80" stroke="#383896" stroke-width="1.5"/>
<text x="460.20" y="268.30" font-size="7.1" text-anchor="start" font-weight="bold" font-style="normal" fill="#111" stroke="#111" stroke-width="0.21">-3.6V</text>
<line x1="443.50" y1="274.35" x2="459.70" y2="274.35" stroke="#60d8f0" stroke-width="1.5"/>
<text x="460.20" y="276.85" font-size="7.1" text-anchor="start" font-weight="bold" font-style="normal" fill="#111" stroke="#111" stroke-width="0.21">-2.4V</text>
<line x1="443.50" y1="282.90" x2="459.70" y2="282.90" stroke="#cc58d4" stroke-width="1.5"/>
<text x="460.20" y="285.40" font-size="7.1" text-anchor="start" font-weight="bold" font-style="normal" fill="#111" stroke="#111" stroke-width="0.21">-1.2V</text>
<line x1="443.50" y1="291.45" x2="459.70" y2="291.45" stroke="#dca860" stroke-width="1.5"/>
<text x="460.20" y="293.95" font-size="7.1" text-anchor="start" font-weight="bold" font-style="normal" fill="#111" stroke="#111" stroke-width="0.21">0V</text>
<line x1="479.30" y1="248.70" x2="495.50" y2="248.70" stroke="#a0a052" stroke-width="1.5"/>
<text x="495.80" y="251.20" font-size="7.1" text-anchor="start" font-weight="bold" font-style="normal" fill="#111" stroke="#111" stroke-width="0.21">1.2V</text>
<line x1="479.30" y1="257.25" x2="495.50" y2="257.25" stroke="#1e1e62" stroke-width="1.5"/>
<text x="495.80" y="259.75" font-size="7.1" text-anchor="start" font-weight="bold" font-style="normal" fill="#111" stroke="#111" stroke-width="0.21">2.4V</text>
<line x1="479.30" y1="265.80" x2="495.50" y2="265.80" stroke="#603060" stroke-width="1.5"/>
<text x="495.80" y="268.30" font-size="7.1" text-anchor="start" font-weight="bold" font-style="normal" fill="#111" stroke="#111" stroke-width="0.21">3.6V</text>
<line x1="479.30" y1="274.35" x2="495.50" y2="274.35" stroke="#602828" stroke-width="1.5"/>
<text x="495.80" y="276.85" font-size="7.1" text-anchor="start" font-weight="bold" font-style="normal" fill="#111" stroke="#111" stroke-width="0.21">4.8V</text>
<line x1="479.30" y1="282.90" x2="495.50" y2="282.90" stroke="#2f7240" stroke-width="1.5"/>
<text x="495.80" y="285.40" font-size="7.1" text-anchor="start" font-weight="bold" font-style="normal" fill="#111" stroke="#111" stroke-width="0.21">6V</text>
<line x1="36.10" y1="317.50" x2="118.60" y2="317.50" stroke="#3e7a48" stroke-width="1.5"/>
<line x1="36.10" y1="322.30" x2="118.60" y2="322.30" stroke="#843434" stroke-width="1.5"/>
<line x1="36.10" y1="327.60" x2="118.60" y2="327.60" stroke="#7a3c86" stroke-width="1.5"/>
<line x1="36.10" y1="334.30" x2="118.60" y2="334.30" stroke="#2a3a6e" stroke-width="1.5"/>
<line x1="36.10" y1="346.80" x2="118.60" y2="346.80" stroke="#a0a450" stroke-width="1.5"/>
<line x1="36.10" y1="400.60" x2="118.60" y2="400.60" stroke="#cc8a58" stroke-width="1.5"/>
<line x1="36.10" y1="411.00" x2="118.60" y2="411.00" stroke="#c046c0" stroke-width="1.5"/>
<line x1="36.10" y1="416.00" x2="118.60" y2="416.00" stroke="#6cd4dc" stroke-width="1.5"/>
<line x1="36.10" y1="420.60" x2="118.60" y2="420.60" stroke="#2c2c90" stroke-width="1.5"/>
<line x1="36.10" y1="424.30" x2="118.60" y2="424.30" stroke="#5cbc5c" stroke-width="1.5"/>
<line x1="36.10" y1="427.60" x2="118.60" y2="427.60" stroke="#b43a34" stroke-width="1.5"/>
<rect x="36.10" y="334.90" width="75.10" height="4.90" fill="#b6e4f8" stroke="none" stroke-width="1"/>
<rect x="36.10" y="401.90" width="75.10" height="4.80" fill="#b6e4f8" stroke="none" stroke-width="1"/>
<text x="80.20" y="339.00" font-size="7.2" text-anchor="start" font-weight="bold" font-style="italic" fill="#111" stroke="#111" stroke-width="0.22">E<tspan font-size="4.6" dy="1.4">c</tspan></text>
<text x="80.20" y="406.50" font-size="7.2" text-anchor="start" font-weight="bold" font-style="italic" fill="#111" stroke="#111" stroke-width="0.22">E<tspan font-size="4.6" dy="1.4">v</tspan></text>
<line x1="38.80" y1="340.70" x2="38.80" y2="401.00" stroke="#111" stroke-width="1.3"/>
<path d="M116.00,340.70 C106.30,341.73 96.57,342.56 86.90,343.80 C79.37,344.76 71.77,345.64 64.40,347.30 C60.24,348.24 55.92,349.48 52.30,351.60 C49.02,353.52 45.90,356.33 43.70,359.40 C41.63,362.29 40.54,366.04 39.50,369.50 C38.97,371.24 38.77,373.20 39.00,375.00 C39.31,377.44 39.83,380.14 41.10,382.20 C42.50,384.47 44.63,386.71 47.00,388.00 C51.26,390.31 56.22,391.74 61.00,393.00 C68.35,394.94 75.87,396.49 83.40,397.60 C92.57,398.95 101.87,399.47 111.10,400.40" stroke="#111" stroke-width="1.5" fill="none" stroke-linecap="round" stroke-linejoin="round"/>
<defs><linearGradient id="gg" x1="0" y1="317.0" x2="0" y2="428.9" gradientUnits="userSpaceOnUse">
<stop offset="0" stop-color="#4a8a3a"/>
<stop offset="0.2" stop-color="#7a9432"/>
<stop offset="0.42" stop-color="#dcb82a"/>
<stop offset="0.64" stop-color="#f09020"/>
<stop offset="0.84" stop-color="#e84a1c"/>
<stop offset="1" stop-color="#d01818"/>
</linearGradient></defs>
<path d="M121.30,428.90 L124.10,428.90 L124.10,324.00 L124.90,324.00 L122.70,317.00 L120.50,324.00 L121.30,324.00 Z" fill="url(#gg)"/>
<rect x="35.60" y="314.70" width="126.20" height="118.30" fill="none" stroke="#333" stroke-width="1.1"/>
<line x1="35.60" y1="320.00" x2="37.80" y2="320.00" stroke="#333" stroke-width="1"/>
<text x="33.00" y="322.80" font-size="10.5" text-anchor="end" font-weight="bold" font-style="normal" fill="#111" stroke="#111" stroke-width="0.32">1.5</text>
<line x1="35.60" y1="347.00" x2="37.80" y2="347.00" stroke="#333" stroke-width="1"/>
<text x="33.00" y="349.80" font-size="10.5" text-anchor="end" font-weight="bold" font-style="normal" fill="#111" stroke="#111" stroke-width="0.32">1.0</text>
<line x1="35.60" y1="374.00" x2="37.80" y2="374.00" stroke="#333" stroke-width="1"/>
<text x="33.00" y="376.80" font-size="10.5" text-anchor="end" font-weight="bold" font-style="normal" fill="#111" stroke="#111" stroke-width="0.32">0.5</text>
<line x1="35.60" y1="401.00" x2="37.80" y2="401.00" stroke="#333" stroke-width="1"/>
<text x="33.00" y="403.80" font-size="10.5" text-anchor="end" font-weight="bold" font-style="normal" fill="#111" stroke="#111" stroke-width="0.32">0.0</text>
<line x1="35.60" y1="428.00" x2="37.80" y2="428.00" stroke="#333" stroke-width="1"/>
<text x="33.00" y="430.80" font-size="10.5" text-anchor="end" font-weight="bold" font-style="normal" fill="#111" stroke="#111" stroke-width="0.32">-0.5</text>
<line x1="35.60" y1="333.50" x2="36.90" y2="333.50" stroke="#333" stroke-width="1"/>
<line x1="35.60" y1="360.50" x2="36.90" y2="360.50" stroke="#333" stroke-width="1"/>
<line x1="35.60" y1="387.50" x2="36.90" y2="387.50" stroke="#333" stroke-width="1"/>
<line x1="35.60" y1="414.50" x2="36.90" y2="414.50" stroke="#333" stroke-width="1"/>
<line x1="38.80" y1="433.00" x2="38.80" y2="431.00" stroke="#333" stroke-width="1"/>
<text x="38.80" y="445.20" font-size="10.2" text-anchor="middle" font-weight="bold" font-style="normal" fill="#111" stroke="#111" stroke-width="0.31">1×10<tspan font-size="6.6" dy="-4">2</tspan></text>
<line x1="118.40" y1="433.00" x2="118.40" y2="431.00" stroke="#333" stroke-width="1"/>
<text x="118.40" y="445.20" font-size="10.2" text-anchor="middle" font-weight="bold" font-style="normal" fill="#111" stroke="#111" stroke-width="0.31">1×10<tspan font-size="6.6" dy="-4">13</tspan></text>
<text x="99.20" y="460.40" font-size="10.7" text-anchor="middle" font-weight="bold" font-style="normal" fill="#111" stroke="#111" stroke-width="0.32">TrapDensity (cm<tspan font-size="7" dy="-4">-2</tspan><tspan dy="4">eV</tspan><tspan font-size="7" dy="-4">-1</tspan><tspan dy="4">)</tspan></text>
<text x="12.60" y="373.00" font-size="11.5" text-anchor="middle" font-weight="bold" font-style="normal" fill="#111" stroke="#111" stroke-width="0.34" transform="rotate(-90 12.60 373.00)">Energy (eV)</text>
<text x="1.00" y="314.00" font-size="15.5" text-anchor="start" font-weight="bold" font-style="normal" fill="#111" stroke="#111" stroke-width="0.46">g</text>
<line x1="126.20" y1="331.50" x2="142.80" y2="331.50" stroke="#b43a34" stroke-width="1.5"/>
<text x="143.40" y="334.00" font-size="7.1" text-anchor="start" font-weight="bold" font-style="normal" fill="#111" stroke="#111" stroke-width="0.21">-6V</text>
<line x1="126.20" y1="340.45" x2="142.80" y2="340.45" stroke="#5cbc5c" stroke-width="1.5"/>
<text x="143.40" y="342.95" font-size="7.1" text-anchor="start" font-weight="bold" font-style="normal" fill="#111" stroke="#111" stroke-width="0.21">-4.8V</text>
<line x1="126.20" y1="349.40" x2="142.80" y2="349.40" stroke="#2c2c90" stroke-width="1.5"/>
<text x="143.40" y="351.90" font-size="7.1" text-anchor="start" font-weight="bold" font-style="normal" fill="#111" stroke="#111" stroke-width="0.21">-3.6V</text>
<line x1="126.20" y1="358.35" x2="142.80" y2="358.35" stroke="#6cd4dc" stroke-width="1.5"/>
<text x="143.40" y="360.85" font-size="7.1" text-anchor="start" font-weight="bold" font-style="normal" fill="#111" stroke="#111" stroke-width="0.21">-2.4V</text>
<line x1="126.20" y1="367.30" x2="142.80" y2="367.30" stroke="#c046c0" stroke-width="1.5"/>
<text x="143.40" y="369.80" font-size="7.1" text-anchor="start" font-weight="bold" font-style="normal" fill="#111" stroke="#111" stroke-width="0.21">-1.2V</text>
<line x1="126.20" y1="376.25" x2="142.80" y2="376.25" stroke="#cc8a58" stroke-width="1.5"/>
<text x="143.40" y="378.75" font-size="7.1" text-anchor="start" font-weight="bold" font-style="normal" fill="#111" stroke="#111" stroke-width="0.21">0V</text>
<line x1="126.20" y1="385.20" x2="142.80" y2="385.20" stroke="#a0a450" stroke-width="1.5"/>
<text x="143.40" y="387.70" font-size="7.1" text-anchor="start" font-weight="bold" font-style="normal" fill="#111" stroke="#111" stroke-width="0.21">1.2V</text>
<line x1="126.20" y1="394.15" x2="142.80" y2="394.15" stroke="#2a3a6e" stroke-width="1.5"/>
<text x="143.40" y="396.65" font-size="7.1" text-anchor="start" font-weight="bold" font-style="normal" fill="#111" stroke="#111" stroke-width="0.21">2.4V</text>
<line x1="126.20" y1="403.10" x2="142.80" y2="403.10" stroke="#7a3c86" stroke-width="1.5"/>
<text x="143.40" y="405.60" font-size="7.1" text-anchor="start" font-weight="bold" font-style="normal" fill="#111" stroke="#111" stroke-width="0.21">3.6V</text>
<line x1="126.20" y1="412.05" x2="142.80" y2="412.05" stroke="#843434" stroke-width="1.5"/>
<text x="143.40" y="414.55" font-size="7.1" text-anchor="start" font-weight="bold" font-style="normal" fill="#111" stroke="#111" stroke-width="0.21">4.8V</text>
<line x1="126.20" y1="421.00" x2="142.80" y2="421.00" stroke="#3e7a48" stroke-width="1.5"/>
<text x="143.40" y="423.50" font-size="7.1" text-anchor="start" font-weight="bold" font-style="normal" fill="#111" stroke="#111" stroke-width="0.21">6V</text>
<line x1="216.30" y1="318.80" x2="296.60" y2="318.80" stroke="#3e7a48" stroke-width="1.5"/>
<line x1="216.30" y1="324.00" x2="296.60" y2="324.00" stroke="#843434" stroke-width="1.5"/>
<line x1="216.30" y1="329.70" x2="296.60" y2="329.70" stroke="#7a3c86" stroke-width="1.5"/>
<line x1="216.30" y1="336.90" x2="296.60" y2="336.90" stroke="#2a3a6e" stroke-width="1.5"/>
<line x1="216.30" y1="350.40" x2="296.60" y2="350.40" stroke="#a0a450" stroke-width="1.5"/>
<line x1="216.30" y1="396.80" x2="296.60" y2="396.80" stroke="#cc8a58" stroke-width="1.5"/>
<line x1="216.30" y1="407.50" x2="296.60" y2="407.50" stroke="#c046c0" stroke-width="1.5"/>
<line x1="216.30" y1="413.80" x2="296.60" y2="413.80" stroke="#6cd4dc" stroke-width="1.5"/>
<line x1="216.30" y1="418.70" x2="296.60" y2="418.70" stroke="#2c2c90" stroke-width="1.5"/>
<line x1="216.30" y1="422.00" x2="296.60" y2="422.00" stroke="#5cbc5c" stroke-width="1.5"/>
<line x1="216.30" y1="425.20" x2="296.60" y2="425.20" stroke="#b43a34" stroke-width="1.5"/>
<rect x="214.10" y="335.20" width="74.90" height="5.40" fill="#b6e4f8" stroke="none" stroke-width="1"/>
<rect x="214.10" y="401.60" width="74.90" height="4.40" fill="#b6e4f8" stroke="none" stroke-width="1"/>
<text x="258.00" y="339.80" font-size="7.2" text-anchor="start" font-weight="bold" font-style="italic" fill="#111" stroke="#111" stroke-width="0.22">E<tspan font-size="4.6" dy="1.4">c</tspan></text>
<text x="258.00" y="405.80" font-size="7.2" text-anchor="start" font-weight="bold" font-style="italic" fill="#111" stroke="#111" stroke-width="0.22">E<tspan font-size="4.6" dy="1.4">v</tspan></text>
<line x1="216.30" y1="340.70" x2="216.30" y2="401.00" stroke="#111" stroke-width="1.3"/>
<path d="M293.30,340.70 C283.50,342.03 273.68,343.24 263.90,344.70 C256.95,345.74 249.94,346.66 243.10,348.20 C238.41,349.26 233.58,350.46 229.30,352.50 C226.38,353.89 223.50,356.03 221.50,358.50 C219.77,360.63 218.87,363.60 218.10,366.30 C217.47,368.53 217.18,370.98 217.30,373.30 C217.45,376.18 217.56,379.46 218.90,381.90 C220.39,384.62 223.06,387.19 225.80,388.80 C229.43,390.93 233.82,392.11 238.00,393.10 C246.52,395.11 255.22,396.58 263.90,397.80 C273.65,399.18 283.50,399.87 293.30,400.90" stroke="#111" stroke-width="1.5" fill="none" stroke-linecap="round" stroke-linejoin="round"/>
<defs><linearGradient id="gh" x1="0" y1="318.0" x2="0" y2="428.0" gradientUnits="userSpaceOnUse">
<stop offset="0" stop-color="#4a8a3a"/>
<stop offset="0.2" stop-color="#7a9432"/>
<stop offset="0.42" stop-color="#dcb82a"/>
<stop offset="0.64" stop-color="#f09020"/>
<stop offset="0.84" stop-color="#e84a1c"/>
<stop offset="1" stop-color="#d01818"/>
</linearGradient></defs>
<path d="M299.10,428.00 L301.90,428.00 L301.90,325.00 L302.70,325.00 L300.50,318.00 L298.30,325.00 L299.10,325.00 Z" fill="url(#gh)"/>
<rect x="213.60" y="315.50" width="126.50" height="117.60" fill="none" stroke="#333" stroke-width="1.1"/>
<line x1="213.60" y1="321.25" x2="215.80" y2="321.25" stroke="#333" stroke-width="1"/>
<text x="211.00" y="324.05" font-size="10.5" text-anchor="end" font-weight="bold" font-style="normal" fill="#111" stroke="#111" stroke-width="0.32">1.5</text>
<line x1="213.60" y1="347.90" x2="215.80" y2="347.90" stroke="#333" stroke-width="1"/>
<text x="211.00" y="350.70" font-size="10.5" text-anchor="end" font-weight="bold" font-style="normal" fill="#111" stroke="#111" stroke-width="0.32">1.0</text>
<line x1="213.60" y1="374.55" x2="215.80" y2="374.55" stroke="#333" stroke-width="1"/>
<text x="211.00" y="377.35" font-size="10.5" text-anchor="end" font-weight="bold" font-style="normal" fill="#111" stroke="#111" stroke-width="0.32">0.5</text>
<line x1="213.60" y1="401.20" x2="215.80" y2="401.20" stroke="#333" stroke-width="1"/>
<text x="211.00" y="404.00" font-size="10.5" text-anchor="end" font-weight="bold" font-style="normal" fill="#111" stroke="#111" stroke-width="0.32">0.0</text>
<line x1="213.60" y1="427.85" x2="215.80" y2="427.85" stroke="#333" stroke-width="1"/>
<text x="211.00" y="430.65" font-size="10.5" text-anchor="end" font-weight="bold" font-style="normal" fill="#111" stroke="#111" stroke-width="0.32">-0.5</text>
<line x1="213.60" y1="334.57" x2="214.90" y2="334.57" stroke="#333" stroke-width="1"/>
<line x1="213.60" y1="361.23" x2="214.90" y2="361.23" stroke="#333" stroke-width="1"/>
<line x1="213.60" y1="387.88" x2="214.90" y2="387.88" stroke="#333" stroke-width="1"/>
<line x1="213.60" y1="414.52" x2="214.90" y2="414.52" stroke="#333" stroke-width="1"/>
<line x1="216.50" y1="433.10" x2="216.50" y2="431.10" stroke="#333" stroke-width="1"/>
<text x="216.50" y="445.20" font-size="10.2" text-anchor="middle" font-weight="bold" font-style="normal" fill="#111" stroke="#111" stroke-width="0.31">1×10<tspan font-size="6.6" dy="-4">2</tspan></text>
<line x1="296.30" y1="433.10" x2="296.30" y2="431.10" stroke="#333" stroke-width="1"/>
<text x="296.30" y="445.20" font-size="10.2" text-anchor="middle" font-weight="bold" font-style="normal" fill="#111" stroke="#111" stroke-width="0.31">1×10<tspan font-size="6.6" dy="-4">14</tspan></text>
<text x="277.00" y="460.40" font-size="10.7" text-anchor="middle" font-weight="bold" font-style="normal" fill="#111" stroke="#111" stroke-width="0.32">TrapDensity (cm<tspan font-size="7" dy="-4">-2</tspan><tspan dy="4">eV</tspan><tspan font-size="7" dy="-4">-1</tspan><tspan dy="4">)</tspan></text>
<text x="190.40" y="373.00" font-size="11.5" text-anchor="middle" font-weight="bold" font-style="normal" fill="#111" stroke="#111" stroke-width="0.34" transform="rotate(-90 190.40 373.00)">Energy (eV)</text>
<text x="177.60" y="313.00" font-size="15.5" text-anchor="start" font-weight="bold" font-style="normal" fill="#111" stroke="#111" stroke-width="0.46">h</text>
<line x1="304.30" y1="331.80" x2="320.90" y2="331.80" stroke="#b43a34" stroke-width="1.5"/>
<text x="321.50" y="334.30" font-size="7.1" text-anchor="start" font-weight="bold" font-style="normal" fill="#111" stroke="#111" stroke-width="0.21">-6V</text>
<line x1="304.30" y1="340.75" x2="320.90" y2="340.75" stroke="#5cbc5c" stroke-width="1.5"/>
<text x="321.50" y="343.25" font-size="7.1" text-anchor="start" font-weight="bold" font-style="normal" fill="#111" stroke="#111" stroke-width="0.21">-4.8V</text>
<line x1="304.30" y1="349.70" x2="320.90" y2="349.70" stroke="#2c2c90" stroke-width="1.5"/>
<text x="321.50" y="352.20" font-size="7.1" text-anchor="start" font-weight="bold" font-style="normal" fill="#111" stroke="#111" stroke-width="0.21">-3.6V</text>
<line x1="304.30" y1="358.65" x2="320.90" y2="358.65" stroke="#6cd4dc" stroke-width="1.5"/>
<text x="321.50" y="361.15" font-size="7.1" text-anchor="start" font-weight="bold" font-style="normal" fill="#111" stroke="#111" stroke-width="0.21">-2.4V</text>
<line x1="304.30" y1="367.60" x2="320.90" y2="367.60" stroke="#c046c0" stroke-width="1.5"/>
<text x="321.50" y="370.10" font-size="7.1" text-anchor="start" font-weight="bold" font-style="normal" fill="#111" stroke="#111" stroke-width="0.21">-1.2V</text>
<line x1="304.30" y1="376.55" x2="320.90" y2="376.55" stroke="#cc8a58" stroke-width="1.5"/>
<text x="321.50" y="379.05" font-size="7.1" text-anchor="start" font-weight="bold" font-style="normal" fill="#111" stroke="#111" stroke-width="0.21">0V</text>
<line x1="304.30" y1="385.50" x2="320.90" y2="385.50" stroke="#a0a450" stroke-width="1.5"/>
<text x="321.50" y="388.00" font-size="7.1" text-anchor="start" font-weight="bold" font-style="normal" fill="#111" stroke="#111" stroke-width="0.21">1.2V</text>
<line x1="304.30" y1="394.45" x2="320.90" y2="394.45" stroke="#2a3a6e" stroke-width="1.5"/>
<text x="321.50" y="396.95" font-size="7.1" text-anchor="start" font-weight="bold" font-style="normal" fill="#111" stroke="#111" stroke-width="0.21">2.4V</text>
<line x1="304.30" y1="403.40" x2="320.90" y2="403.40" stroke="#7a3c86" stroke-width="1.5"/>
<text x="321.50" y="405.90" font-size="7.1" text-anchor="start" font-weight="bold" font-style="normal" fill="#111" stroke="#111" stroke-width="0.21">3.6V</text>
<line x1="304.30" y1="412.35" x2="320.90" y2="412.35" stroke="#843434" stroke-width="1.5"/>
<text x="321.50" y="414.85" font-size="7.1" text-anchor="start" font-weight="bold" font-style="normal" fill="#111" stroke="#111" stroke-width="0.21">4.8V</text>
<line x1="304.30" y1="421.30" x2="320.90" y2="421.30" stroke="#3e7a48" stroke-width="1.5"/>
<text x="321.50" y="423.80" font-size="7.1" text-anchor="start" font-weight="bold" font-style="normal" fill="#111" stroke="#111" stroke-width="0.21">6V</text>
<line x1="394.30" y1="334.80" x2="474.80" y2="334.80" stroke="#3e7a48" stroke-width="1.5"/>
<line x1="394.30" y1="341.20" x2="474.80" y2="341.20" stroke="#843434" stroke-width="1.5"/>
<line x1="394.30" y1="343.90" x2="474.80" y2="343.90" stroke="#7a3c86" stroke-width="1.5"/>
<line x1="394.30" y1="347.60" x2="474.80" y2="347.60" stroke="#2a3a6e" stroke-width="1.5"/>
<line x1="394.30" y1="357.30" x2="474.80" y2="357.30" stroke="#a0a450" stroke-width="1.5"/>
<line x1="394.30" y1="387.60" x2="474.80" y2="387.60" stroke="#cc8a58" stroke-width="1.5"/>
<line x1="394.30" y1="394.90" x2="474.80" y2="394.90" stroke="#c046c0" stroke-width="1.5"/>
<line x1="394.30" y1="398.30" x2="474.80" y2="398.30" stroke="#6cd4dc" stroke-width="1.5"/>
<line x1="394.30" y1="400.90" x2="474.80" y2="400.90" stroke="#2c2c90" stroke-width="1.5"/>
<line x1="394.30" y1="405.60" x2="474.80" y2="405.60" stroke="#5cbc5c" stroke-width="1.5"/>
<line x1="394.30" y1="411.00" x2="474.80" y2="411.00" stroke="#b43a34" stroke-width="1.5"/>
<rect x="392.20" y="334.60" width="74.40" height="5.50" fill="#b6e4f8" stroke="none" stroke-width="1"/>
<rect x="392.20" y="401.80" width="74.40" height="5.20" fill="#b6e4f8" stroke="none" stroke-width="1"/>
<text x="436.50" y="339.30" font-size="7.2" text-anchor="start" font-weight="bold" font-style="italic" fill="#111" stroke="#111" stroke-width="0.22">E<tspan font-size="4.6" dy="1.4">c</tspan></text>
<text x="436.50" y="406.80" font-size="7.2" text-anchor="start" font-weight="bold" font-style="italic" fill="#111" stroke="#111" stroke-width="0.22">E<tspan font-size="4.6" dy="1.4">v</tspan></text>
<line x1="394.30" y1="341.20" x2="394.30" y2="400.90" stroke="#111" stroke-width="1.3"/>
<path d="M474.80,340.70 C466.73,341.47 458.65,342.09 450.60,343.00 C441.92,343.99 433.20,344.91 424.60,346.40 C419.93,347.21 415.18,348.21 410.80,349.90 C407.68,351.11 404.51,352.85 402.10,355.10 C399.87,357.18 398.07,360.07 396.90,362.90 C395.81,365.54 395.44,368.62 395.30,371.50 C395.17,374.08 395.30,376.87 396.10,379.30 C397.00,382.07 398.27,385.22 400.40,387.10 C403.17,389.55 407.11,391.23 410.80,392.30 C418.07,394.40 425.76,395.39 433.30,396.60 C441.90,397.99 450.56,399.02 459.20,400.10 C464.39,400.75 469.60,401.23 474.80,401.80" stroke="#141440" stroke-width="1.5" fill="none" stroke-linecap="round" stroke-linejoin="round"/>
<defs><linearGradient id="gi" x1="0" y1="335.8" x2="0" y2="411.4" gradientUnits="userSpaceOnUse">
<stop offset="0" stop-color="#4a8a3a"/>
<stop offset="0.2" stop-color="#7a9432"/>
<stop offset="0.42" stop-color="#dcb82a"/>
<stop offset="0.64" stop-color="#f09020"/>
<stop offset="0.84" stop-color="#e84a1c"/>
<stop offset="1" stop-color="#d01818"/>
</linearGradient></defs>
<path d="M477.10,411.40 L479.90,411.40 L479.90,342.80 L480.70,342.80 L478.50,335.80 L476.30,342.80 L477.10,342.80 Z" fill="url(#gi)"/>
<rect x="391.70" y="315.50" width="126.50" height="117.60" fill="none" stroke="#333" stroke-width="1.1"/>
<line x1="391.70" y1="320.95" x2="393.90" y2="320.95" stroke="#333" stroke-width="1"/>
<text x="389.10" y="323.75" font-size="10.5" text-anchor="end" font-weight="bold" font-style="normal" fill="#111" stroke="#111" stroke-width="0.32">1.5</text>
<line x1="391.70" y1="347.70" x2="393.90" y2="347.70" stroke="#333" stroke-width="1"/>
<text x="389.10" y="350.50" font-size="10.5" text-anchor="end" font-weight="bold" font-style="normal" fill="#111" stroke="#111" stroke-width="0.32">1.0</text>
<line x1="391.70" y1="374.45" x2="393.90" y2="374.45" stroke="#333" stroke-width="1"/>
<text x="389.10" y="377.25" font-size="10.5" text-anchor="end" font-weight="bold" font-style="normal" fill="#111" stroke="#111" stroke-width="0.32">0.5</text>
<line x1="391.70" y1="401.20" x2="393.90" y2="401.20" stroke="#333" stroke-width="1"/>
<text x="389.10" y="404.00" font-size="10.5" text-anchor="end" font-weight="bold" font-style="normal" fill="#111" stroke="#111" stroke-width="0.32">0.0</text>
<line x1="391.70" y1="427.95" x2="393.90" y2="427.95" stroke="#333" stroke-width="1"/>
<text x="389.10" y="430.75" font-size="10.5" text-anchor="end" font-weight="bold" font-style="normal" fill="#111" stroke="#111" stroke-width="0.32">-0.5</text>
<line x1="391.70" y1="334.32" x2="393.00" y2="334.32" stroke="#333" stroke-width="1"/>
<line x1="391.70" y1="361.07" x2="393.00" y2="361.07" stroke="#333" stroke-width="1"/>
<line x1="391.70" y1="387.82" x2="393.00" y2="387.82" stroke="#333" stroke-width="1"/>
<line x1="391.70" y1="414.57" x2="393.00" y2="414.57" stroke="#333" stroke-width="1"/>
<line x1="394.30" y1="433.10" x2="394.30" y2="431.10" stroke="#333" stroke-width="1"/>
<text x="394.30" y="445.20" font-size="10.2" text-anchor="middle" font-weight="bold" font-style="normal" fill="#111" stroke="#111" stroke-width="0.31">1×10<tspan font-size="6.6" dy="-4">2</tspan></text>
<line x1="474.50" y1="433.10" x2="474.50" y2="431.10" stroke="#333" stroke-width="1"/>
<text x="474.50" y="445.20" font-size="10.2" text-anchor="middle" font-weight="bold" font-style="normal" fill="#111" stroke="#111" stroke-width="0.31">1×10<tspan font-size="6.6" dy="-4">15</tspan></text>
<text x="455.00" y="460.40" font-size="10.7" text-anchor="middle" font-weight="bold" font-style="normal" fill="#111" stroke="#111" stroke-width="0.32">TrapDensity (cm<tspan font-size="7" dy="-4">-2</tspan><tspan dy="4">eV</tspan><tspan font-size="7" dy="-4">-1</tspan><tspan dy="4">)</tspan></text>
<text x="368.40" y="373.00" font-size="11.5" text-anchor="middle" font-weight="bold" font-style="normal" fill="#111" stroke="#111" stroke-width="0.34" transform="rotate(-90 368.40 373.00)">Energy (eV)</text>
<text x="357.00" y="313.00" font-size="15.5" text-anchor="start" font-weight="bold" font-style="normal" fill="#111" stroke="#111" stroke-width="0.46">i</text>
<line x1="481.90" y1="329.20" x2="498.50" y2="329.20" stroke="#b43a34" stroke-width="1.5"/>
<text x="499.10" y="331.70" font-size="7.1" text-anchor="start" font-weight="bold" font-style="normal" fill="#111" stroke="#111" stroke-width="0.21">-6V</text>
<line x1="481.90" y1="338.15" x2="498.50" y2="338.15" stroke="#5cbc5c" stroke-width="1.5"/>
<text x="499.10" y="340.65" font-size="7.1" text-anchor="start" font-weight="bold" font-style="normal" fill="#111" stroke="#111" stroke-width="0.21">-4.8V</text>
<line x1="481.90" y1="347.10" x2="498.50" y2="347.10" stroke="#2c2c90" stroke-width="1.5"/>
<text x="499.10" y="349.60" font-size="7.1" text-anchor="start" font-weight="bold" font-style="normal" fill="#111" stroke="#111" stroke-width="0.21">-3.6V</text>
<line x1="481.90" y1="356.05" x2="498.50" y2="356.05" stroke="#6cd4dc" stroke-width="1.5"/>
<text x="499.10" y="358.55" font-size="7.1" text-anchor="start" font-weight="bold" font-style="normal" fill="#111" stroke="#111" stroke-width="0.21">-2.4V</text>
<line x1="481.90" y1="365.00" x2="498.50" y2="365.00" stroke="#c046c0" stroke-width="1.5"/>
<text x="499.10" y="367.50" font-size="7.1" text-anchor="start" font-weight="bold" font-style="normal" fill="#111" stroke="#111" stroke-width="0.21">-1.2V</text>
<line x1="481.90" y1="373.95" x2="498.50" y2="373.95" stroke="#cc8a58" stroke-width="1.5"/>
<text x="499.10" y="376.45" font-size="7.1" text-anchor="start" font-weight="bold" font-style="normal" fill="#111" stroke="#111" stroke-width="0.21">0V</text>
<line x1="481.90" y1="382.90" x2="498.50" y2="382.90" stroke="#a0a450" stroke-width="1.5"/>
<text x="499.10" y="385.40" font-size="7.1" text-anchor="start" font-weight="bold" font-style="normal" fill="#111" stroke="#111" stroke-width="0.21">1.2V</text>
<line x1="481.90" y1="391.85" x2="498.50" y2="391.85" stroke="#2a3a6e" stroke-width="1.5"/>
<text x="499.10" y="394.35" font-size="7.1" text-anchor="start" font-weight="bold" font-style="normal" fill="#111" stroke="#111" stroke-width="0.21">2.4V</text>
<line x1="481.90" y1="400.80" x2="498.50" y2="400.80" stroke="#7a3c86" stroke-width="1.5"/>
<text x="499.10" y="403.30" font-size="7.1" text-anchor="start" font-weight="bold" font-style="normal" fill="#111" stroke="#111" stroke-width="0.21">3.6V</text>
<line x1="481.90" y1="409.75" x2="498.50" y2="409.75" stroke="#843434" stroke-width="1.5"/>
<text x="499.10" y="412.25" font-size="7.1" text-anchor="start" font-weight="bold" font-style="normal" fill="#111" stroke="#111" stroke-width="0.21">4.8V</text>
<line x1="481.90" y1="418.70" x2="498.50" y2="418.70" stroke="#3e7a48" stroke-width="1.5"/>
<text x="499.10" y="421.20" font-size="7.1" text-anchor="start" font-weight="bold" font-style="normal" fill="#111" stroke="#111" stroke-width="0.21">6V</text>
</svg>
</body></html>
